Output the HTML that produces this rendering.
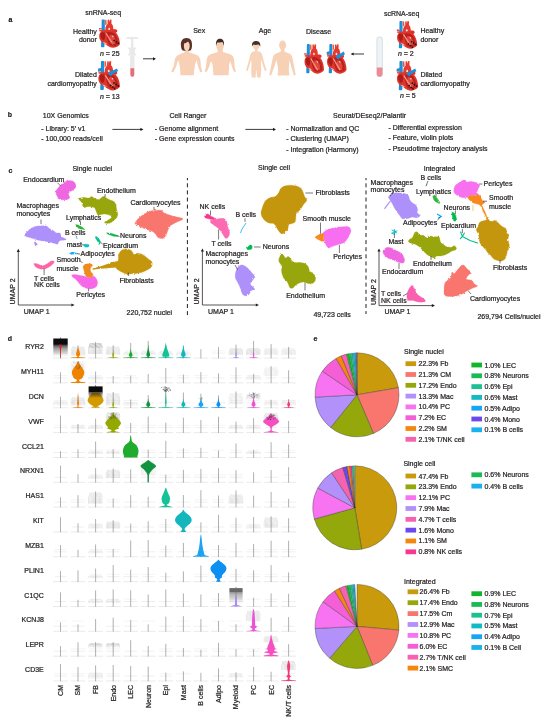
<!DOCTYPE html>
<html lang="en">
<head>
<meta charset="utf-8">
<title>Figure 1</title>
<style>
html,body{margin:0;padding:0;background:#fff;}
body{width:550px;height:722px;overflow:hidden;}
svg{display:block;}
svg text{font-family:"Liberation Sans", sans-serif;font-size:7px;fill:#231f20;stroke:#231f20;stroke-width:0.22px;}
</style>
</head>
<body>
<svg width="550" height="722" viewBox="0 0 550 722">
<rect width="550" height="722" fill="#ffffff"/>
<text x="8.5" y="22.2" font-size="8.5" font-weight="bold" fill="#000">a</text>
<text x="103.2" y="15.2" text-anchor="middle">snRNA-seq</text>
<text x="96.8" y="33.6" text-anchor="end">Healthy</text>
<text x="96.8" y="42.3" text-anchor="end">donor</text>
<text x="96.8" y="77.1" text-anchor="end">Dilated</text>
<text x="96.8" y="86" text-anchor="end">cardiomyopathy</text>
<text x="109.8" y="56.1" text-anchor="middle"><tspan font-style="italic">n</tspan> = 25</text>
<text x="109.8" y="99" text-anchor="middle"><tspan font-style="italic">n</tspan> = 13</text>
<g transform="translate(98,19.3) scale(1.0000,1.0000)">
<path d="M3.7 0.4 C4.6 0 5.9 0 6.8 0.4 L6.9 14 L6.4 27.4 C5.4 28.1 4 28.1 3 27.4 L3.5 14 Z" fill="#1c8fd8"/>
<path d="M7 0.6 L8.4 0.4 L8.8 5 L7.2 6 Z" fill="#ef5a3a"/>
<path d="M7.4 12 C7 8 8 5.6 9.6 4.6 L9.6 0.6 L11 0.3 L11.3 2.6 L12 0.2 L13.5 0.4 L13.4 4.2 C15 5.4 15.6 8 15.2 12 Z" fill="#e53a30"/>
<path d="M1 8.6 L4 9.2 L4 10 L1 10.2 Z M1.2 10.8 L4 10.6 L4 12 L1.6 12.3 Z" fill="#e53a30"/>
<path d="M14 10.4 C16 9.6 18.4 9.8 19.2 11 C19.6 12 19 13.2 17.4 13.4 L14 13 Z" fill="#d93028"/>
<path d="M5.2 10.8 C2.4 12 1 14.6 1.2 17.5 C1.4 20 2.4 21.6 4 22.6 L7 24.6 C10 27 13 28.6 15.6 28.4 C18.5 27.8 21 26.6 21.9 24.9 C21.9 21 20.8 17.5 19.3 15.1 C18 13 16 11.4 14 10.8 Z" fill="#e0352b"/>
<path d="M2.4 14.4 C3.6 12.6 6 12.4 7 14 C7.8 16.4 7.2 19.4 5.6 21.2 C3.4 20.2 2 17.4 2.4 14.4 Z" fill="#ab1d1b"/>
<path d="M8.6 13.2 C11 11.8 15 12.6 17.4 15.4 C19.4 18.4 20.4 22 20 24.6 C17.6 26.8 14 27.2 11.6 25.6 C9.4 22.4 8.2 17 8.6 13.2 Z" fill="#b8211e"/>
<path d="M11.8 15.6 C14 15 16 16.6 17 19 C17.8 21.2 17.8 23.2 17 24.8 C15 25.4 13 24.4 12.2 22.6 C11.4 20.2 11.2 17.6 11.8 15.6 Z" fill="#e2473c"/>
<path d="M7.4 14.2 L8.4 13.6 L15.6 24.6 L14.6 25.2 Z" fill="#f6a597"/>
<path d="M9.6 17.6 L10.4 17.2 L14 23.6 L13.2 24 Z" fill="#ee7d6e"/>
<ellipse cx="11.2" cy="9.6" rx="0.9" ry="1.2" fill="#fbe4dc"/>
<path d="M13.8 16.2 L15.6 16.6 L15 18.4 Z" fill="#fbd8cf"/>
<path d="M4.8 22.6 C6.4 22.6 8.4 23.8 9.4 25.2 L7 24.6 Z" fill="#f7c3b4"/>
<path d="M15.6 20.8 L21.8 25" stroke="#1a0d0d" stroke-width="1.5" stroke-dasharray="1.5 1" fill="none"/>
<path d="M13.8 23.4 L18.6 27.2" stroke="#5a1512" stroke-width="0.7" stroke-dasharray="1.2 1" fill="none"/>
</g>
<g transform="translate(97.1,60.9) scale(1.0417,1.0400)">
<path d="M3.7 0.4 C4.6 0 5.9 0 6.8 0.4 L6.9 14 L6.4 27.4 C5.4 28.1 4 28.1 3 27.4 L3.5 14 Z" fill="#1c8fd8"/>
<path d="M7 0.6 L8.4 0.4 L8.8 5 L7.2 6 Z" fill="#ef5a3a"/>
<path d="M7.4 12 C7 8 8 5.6 9.6 4.6 L9.6 0.6 L11 0.3 L11.3 2.6 L12 0.2 L13.5 0.4 L13.4 4.2 C15 5.4 15.6 8 15.2 12 Z" fill="#e53a30"/>
<path d="M1 8.6 L4 9.2 L4 10 L1 10.2 Z M1.2 10.8 L4 10.6 L4 12 L1.6 12.3 Z" fill="#e53a30"/>
<path d="M14 10.4 C16 9.6 18.4 9.8 19.2 11 C19.6 12 19 13.2 17.4 13.4 L14 13 Z" fill="#d93028"/>
<path d="M5.2 10.8 C2.4 12 1 14.6 1.2 17.5 C1.4 20 2.4 21.6 4 22.6 L7 24.6 C10 27 13 28.6 15.6 28.4 C18.5 27.8 21 26.6 21.9 24.9 C21.9 21 20.8 17.5 19.3 15.1 C18 13 16 11.4 14 10.8 Z" fill="#e0352b"/>
<path d="M2.4 14.4 C3.6 12.6 6 12.4 7 14 C7.8 16.4 7.2 19.4 5.6 21.2 C3.4 20.2 2 17.4 2.4 14.4 Z" fill="#ab1d1b"/>
<path d="M8.6 13.2 C11 11.8 15 12.6 17.4 15.4 C19.4 18.4 20.4 22 20 24.6 C17.6 26.8 14 27.2 11.6 25.6 C9.4 22.4 8.2 17 8.6 13.2 Z" fill="#b8211e"/>
<path d="M11.8 15.6 C14 15 16 16.6 17 19 C17.8 21.2 17.8 23.2 17 24.8 C15 25.4 13 24.4 12.2 22.6 C11.4 20.2 11.2 17.6 11.8 15.6 Z" fill="#e2473c"/>
<path d="M7.4 14.2 L8.4 13.6 L15.6 24.6 L14.6 25.2 Z" fill="#f6a597"/>
<path d="M9.6 17.6 L10.4 17.2 L14 23.6 L13.2 24 Z" fill="#ee7d6e"/>
<ellipse cx="11.2" cy="9.6" rx="0.9" ry="1.2" fill="#fbe4dc"/>
<path d="M13.8 16.2 L15.6 16.6 L15 18.4 Z" fill="#fbd8cf"/>
<path d="M4.8 22.6 C6.4 22.6 8.4 23.8 9.4 25.2 L7 24.6 Z" fill="#f7c3b4"/>
<path d="M0.8 7.6 L4 6.6 L4 9.6 L1.2 10.2 Z" fill="#1c8fd8"/>
<path d="M10.4 12.6 C11.4 10.4 13.8 9.9 15.6 9.1 L19 7.2 L20.2 9.8 L17.2 11.4 C15.6 12.2 14.2 13.2 13.4 14.8 Z" fill="#1c8fd8"/>
<path d="M15.6 20.8 L21.8 25" stroke="#1a0d0d" stroke-width="1.5" stroke-dasharray="1.5 1" fill="none"/>
<path d="M12.6 23 L17.8 27.6" stroke="#1a0d0d" stroke-width="1.4" stroke-dasharray="1.5 1" fill="none"/>
</g>
<g fill="#e9e9e9">
<rect x="126.5" y="37" width="11.5" height="2.1" rx="0.8"/>
<rect x="131" y="38" width="2.4" height="10"/>
<path d="M128.2 47.4 L136.2 47.4 L136.2 49 L135 49.6 L135 53.6 L136.2 54.2 L136.2 55.6 L128.2 55.6 L128.2 54.2 L129.4 53.6 L129.4 49.6 L128.2 49 Z"/>
<rect x="130.1" y="55" width="4.4" height="21.8" rx="2.1"/>
</g>
<path d="M130.4 68.2 L134.2 68.2 L134.2 74.8 A1.9 1.9 0 0 1 130.4 74.8 Z" fill="#e96d76"/>
<path d="M143 58.8 L153.60 58.8" stroke="#1a1a1a" stroke-width="0.85" fill="none"/>
<path d="M156 58.8 L153.00 57.199999999999996 L153.00 60.4 Z" fill="#1a1a1a"/>
<text x="199.2" y="33" text-anchor="middle">Sex</text>
<text x="265" y="33.2" text-anchor="middle">Age</text>
<text x="318.6" y="34.2" text-anchor="middle">Disease</text>
<g>
<path d="M184.6 49 L184.6 52.2 C182.4 53.2 179.4 54.2 177.4 55.6 C175.4 57 174.6 59.4 174.3 62.4 L173.6 66.5 L171.2 71.6 L173.2 72.4 L176 67 L178.2 60 L179.3 64 C179.8 67 180.2 69 180.2 70.4 L180.4 75.3 L193.8 75.3 L194.2 70.4 C194.4 69 194.8 67 195.2 64 L196.6 60 L198.2 67 L200.4 72.4 L202.4 71.6 L200.8 66.5 L200.6 62.4 C200.4 59.4 199.8 57 197.8 55.6 C195.8 54.2 191.2 53.2 189 52.2 L189 49 Z" fill="#f7d0b5"/>
<path d="M186.6 37.9 C182.6 37.8 180.6 41 180.9 45 C181 47.6 181.6 49.6 182.8 50.6 L185 50.8 L188.6 50.8 L190.6 50.6 C191.6 49.4 192 47.4 192 45 C192.2 41 190.6 38 186.6 37.9 Z" fill="#5b3128"/>
<path d="M184 43.6 C185.4 43.4 187 42.6 188 41.6 C189.2 42.8 189.8 44.6 189.7 46.6 C189.6 49 188.4 51 186.8 51.2 C185.2 51 184 49 183.9 46.6 Z" fill="#f7d6bf"/>
</g>
<path d="M217.7 49.6 L217.7 52 C214.6 53 211.2 53.8 209.2 55 C207.2 56.4 206.6 59 206.4 63 L205.8 67.5 L204.6 71.4 L206.6 72 L208.8 67.5 L211 61 L212.6 64.5 L213.4 75.3 L228.6 75.3 L229.2 64.5 L230.2 61 L232.2 67.5 L234 72 L236 71.4 L234.8 67.5 L234.4 63 C234.2 59 233.6 56.4 231.6 55 C229.6 53.8 226 53 222.9 52 L222.9 49.6 Z" fill="#f7d0b5"/>
<ellipse cx="220" cy="45.8" rx="3.7" ry="5.2" fill="#f5cfb4"/>
<path d="M216.1 46 C215.4 41.4 217 38.8 220 38.8 C223 38.8 224.6 41.4 223.9 46 C223.5 44.2 223 42.8 222.2 42 C220.8 42.6 218.6 42.6 217.6 42.2 C216.8 43 216.4 44.4 216.1 46 Z" fill="#3f2a25"/>
<path d="M246 70.6 C247.4 66 248.8 61 250 56 C250.4 53.4 251.6 52 253.4 51.6 L255 51.2 L255 48.6 L257.5 48.6 L257.5 51.2 L259.1 51.6 C260.9 52 262.1 53.4 262.5 56 C263.7 61 265.1 66 266.5 70.6 L265 71.2 C263.6 67.6 262.2 63 261.3 59.6 C261 63 261 66 261.2 68.6 C261.2 72 260.9 75 260.5 77.4 L257 77.4 L256.5 70.4 L256.1 70.4 L255.6 77.4 L251.8 77.4 C251.4 75 251.1 72 251.3 68.6 C251.5 66 251.5 63 251.2 59.6 C250.3 63 248.9 67.6 247.5 71.2 Z" fill="#f7d3ba"/>
<ellipse cx="256.2" cy="45.8" rx="3.2" ry="3.7" fill="#f7d3ba"/>
<path d="M252.1 46.4 C251.5 42.6 253.2 41 256.1 41 C259 41 260.8 42.6 260.2 46.4 C259.6 45.2 259 44.6 258.4 44.4 C256.8 45 254.6 45 253.6 44.6 C253 45 252.6 45.6 252.1 46.4 Z" fill="#4a2f2a"/>
<path d="M269.3 75 C270.8 68 272 61.4 273 57 C273.6 54.2 276 53.2 278.6 52.4 L280.8 51.6 L280.8 48.6 L284.4 48.6 L284.4 51.6 L286.6 52.4 C289.2 53.2 291.6 54.2 292.2 57 C293.2 61.4 294.4 68 295.7 75 L293.9 75.4 C292.2 70 290.6 64.6 289.6 60 C289 64 288.8 68 288.9 71 L289.5 75.5 L277.5 75.5 L278.1 71 C278.2 68 277.4 64 276.4 60 C275 64.6 273.2 70 271.1 75.4 Z" fill="#f6d1b6"/>
<ellipse cx="282.6" cy="45.2" rx="3.5" ry="4.7" fill="#f6d1b6"/>
<g transform="translate(303.4,44) scale(0.9417,1.0467)">
<path d="M3.7 0.4 C4.6 0 5.9 0 6.8 0.4 L6.9 14 L6.4 27.4 C5.4 28.1 4 28.1 3 27.4 L3.5 14 Z" fill="#1c8fd8"/>
<path d="M7 0.6 L8.4 0.4 L8.8 5 L7.2 6 Z" fill="#ef5a3a"/>
<path d="M7.4 12 C7 8 8 5.6 9.6 4.6 L9.6 0.6 L11 0.3 L11.3 2.6 L12 0.2 L13.5 0.4 L13.4 4.2 C15 5.4 15.6 8 15.2 12 Z" fill="#e53a30"/>
<path d="M1 8.6 L4 9.2 L4 10 L1 10.2 Z M1.2 10.8 L4 10.6 L4 12 L1.6 12.3 Z" fill="#e53a30"/>
<path d="M14 10.4 C16 9.6 18.4 9.8 19.2 11 C19.6 12 19 13.2 17.4 13.4 L14 13 Z" fill="#d93028"/>
<path d="M5.2 10.8 C2.4 12 1 14.6 1.2 17.5 C1.4 20 2.4 21.6 4 22.6 L7 24.6 C10 27 13 28.6 15.6 28.4 C18.5 27.8 21 26.6 21.9 24.9 C21.9 21 20.8 17.5 19.3 15.1 C18 13 16 11.4 14 10.8 Z" fill="#e0352b"/>
<path d="M2.4 14.4 C3.6 12.6 6 12.4 7 14 C7.8 16.4 7.2 19.4 5.6 21.2 C3.4 20.2 2 17.4 2.4 14.4 Z" fill="#ab1d1b"/>
<path d="M8.6 13.2 C11 11.8 15 12.6 17.4 15.4 C19.4 18.4 20.4 22 20 24.6 C17.6 26.8 14 27.2 11.6 25.6 C9.4 22.4 8.2 17 8.6 13.2 Z" fill="#b8211e"/>
<path d="M11.8 15.6 C14 15 16 16.6 17 19 C17.8 21.2 17.8 23.2 17 24.8 C15 25.4 13 24.4 12.2 22.6 C11.4 20.2 11.2 17.6 11.8 15.6 Z" fill="#e2473c"/>
<path d="M7.4 14.2 L8.4 13.6 L15.6 24.6 L14.6 25.2 Z" fill="#f6a597"/>
<path d="M9.6 17.6 L10.4 17.2 L14 23.6 L13.2 24 Z" fill="#ee7d6e"/>
<ellipse cx="11.2" cy="9.6" rx="0.9" ry="1.2" fill="#fbe4dc"/>
<path d="M13.8 16.2 L15.6 16.6 L15 18.4 Z" fill="#fbd8cf"/>
<path d="M4.8 22.6 C6.4 22.6 8.4 23.8 9.4 25.2 L7 24.6 Z" fill="#f7c3b4"/>
</g>
<g transform="translate(325.9,44) scale(0.9417,1.0467)">
<path d="M3.7 0.4 C4.6 0 5.9 0 6.8 0.4 L6.9 14 L6.4 27.4 C5.4 28.1 4 28.1 3 27.4 L3.5 14 Z" fill="#1c8fd8"/>
<path d="M7 0.6 L8.4 0.4 L8.8 5 L7.2 6 Z" fill="#ef5a3a"/>
<path d="M7.4 12 C7 8 8 5.6 9.6 4.6 L9.6 0.6 L11 0.3 L11.3 2.6 L12 0.2 L13.5 0.4 L13.4 4.2 C15 5.4 15.6 8 15.2 12 Z" fill="#e53a30"/>
<path d="M1 8.6 L4 9.2 L4 10 L1 10.2 Z M1.2 10.8 L4 10.6 L4 12 L1.6 12.3 Z" fill="#e53a30"/>
<path d="M14 10.4 C16 9.6 18.4 9.8 19.2 11 C19.6 12 19 13.2 17.4 13.4 L14 13 Z" fill="#d93028"/>
<path d="M5.2 10.8 C2.4 12 1 14.6 1.2 17.5 C1.4 20 2.4 21.6 4 22.6 L7 24.6 C10 27 13 28.6 15.6 28.4 C18.5 27.8 21 26.6 21.9 24.9 C21.9 21 20.8 17.5 19.3 15.1 C18 13 16 11.4 14 10.8 Z" fill="#e0352b"/>
<path d="M2.4 14.4 C3.6 12.6 6 12.4 7 14 C7.8 16.4 7.2 19.4 5.6 21.2 C3.4 20.2 2 17.4 2.4 14.4 Z" fill="#ab1d1b"/>
<path d="M8.6 13.2 C11 11.8 15 12.6 17.4 15.4 C19.4 18.4 20.4 22 20 24.6 C17.6 26.8 14 27.2 11.6 25.6 C9.4 22.4 8.2 17 8.6 13.2 Z" fill="#b8211e"/>
<path d="M11.8 15.6 C14 15 16 16.6 17 19 C17.8 21.2 17.8 23.2 17 24.8 C15 25.4 13 24.4 12.2 22.6 C11.4 20.2 11.2 17.6 11.8 15.6 Z" fill="#e2473c"/>
<path d="M7.4 14.2 L8.4 13.6 L15.6 24.6 L14.6 25.2 Z" fill="#f6a597"/>
<path d="M9.6 17.6 L10.4 17.2 L14 23.6 L13.2 24 Z" fill="#ee7d6e"/>
<ellipse cx="11.2" cy="9.6" rx="0.9" ry="1.2" fill="#fbe4dc"/>
<path d="M13.8 16.2 L15.6 16.6 L15 18.4 Z" fill="#fbd8cf"/>
<path d="M4.8 22.6 C6.4 22.6 8.4 23.8 9.4 25.2 L7 24.6 Z" fill="#f7c3b4"/>
<path d="M0.8 7.6 L4 6.6 L4 9.6 L1.2 10.2 Z" fill="#1c8fd8"/>
<path d="M10.4 12.6 C11.4 10.4 13.8 9.9 15.6 9.1 L19 7.2 L20.2 9.8 L17.2 11.4 C15.6 12.2 14.2 13.2 13.4 14.8 Z" fill="#1c8fd8"/>
</g>
<path d="M364 54 L353.00 54" stroke="#1a1a1a" stroke-width="0.85" fill="none"/>
<path d="M350.6 54 L353.60 52.4 L353.60 55.6 Z" fill="#1a1a1a"/>
<text x="401.6" y="16" text-anchor="middle">scRNA-seq</text>
<rect x="376.4" y="36.5" width="6.5" height="40.4" rx="3" fill="#d9e2e9"/>
<rect x="377.5" y="37.4" width="4.3" height="38.6" rx="2.1" fill="#eff3f6"/>
<path d="M376.8 67.6 L382.5 67.6 L382.5 73.8 A2.85 2.85 0 0 1 376.8 73.8 Z" fill="#ee8a92"/>
<g transform="translate(395.9,20.9) scale(0.9708,0.9800)">
<path d="M3.7 0.4 C4.6 0 5.9 0 6.8 0.4 L6.9 14 L6.4 27.4 C5.4 28.1 4 28.1 3 27.4 L3.5 14 Z" fill="#1c8fd8"/>
<path d="M7 0.6 L8.4 0.4 L8.8 5 L7.2 6 Z" fill="#ef5a3a"/>
<path d="M7.4 12 C7 8 8 5.6 9.6 4.6 L9.6 0.6 L11 0.3 L11.3 2.6 L12 0.2 L13.5 0.4 L13.4 4.2 C15 5.4 15.6 8 15.2 12 Z" fill="#e53a30"/>
<path d="M1 8.6 L4 9.2 L4 10 L1 10.2 Z M1.2 10.8 L4 10.6 L4 12 L1.6 12.3 Z" fill="#e53a30"/>
<path d="M14 10.4 C16 9.6 18.4 9.8 19.2 11 C19.6 12 19 13.2 17.4 13.4 L14 13 Z" fill="#d93028"/>
<path d="M5.2 10.8 C2.4 12 1 14.6 1.2 17.5 C1.4 20 2.4 21.6 4 22.6 L7 24.6 C10 27 13 28.6 15.6 28.4 C18.5 27.8 21 26.6 21.9 24.9 C21.9 21 20.8 17.5 19.3 15.1 C18 13 16 11.4 14 10.8 Z" fill="#e0352b"/>
<path d="M2.4 14.4 C3.6 12.6 6 12.4 7 14 C7.8 16.4 7.2 19.4 5.6 21.2 C3.4 20.2 2 17.4 2.4 14.4 Z" fill="#ab1d1b"/>
<path d="M8.6 13.2 C11 11.8 15 12.6 17.4 15.4 C19.4 18.4 20.4 22 20 24.6 C17.6 26.8 14 27.2 11.6 25.6 C9.4 22.4 8.2 17 8.6 13.2 Z" fill="#b8211e"/>
<path d="M11.8 15.6 C14 15 16 16.6 17 19 C17.8 21.2 17.8 23.2 17 24.8 C15 25.4 13 24.4 12.2 22.6 C11.4 20.2 11.2 17.6 11.8 15.6 Z" fill="#e2473c"/>
<path d="M7.4 14.2 L8.4 13.6 L15.6 24.6 L14.6 25.2 Z" fill="#f6a597"/>
<path d="M9.6 17.6 L10.4 17.2 L14 23.6 L13.2 24 Z" fill="#ee7d6e"/>
<ellipse cx="11.2" cy="9.6" rx="0.9" ry="1.2" fill="#fbe4dc"/>
<path d="M13.8 16.2 L15.6 16.6 L15 18.4 Z" fill="#fbd8cf"/>
<path d="M4.8 22.6 C6.4 22.6 8.4 23.8 9.4 25.2 L7 24.6 Z" fill="#f7c3b4"/>
<path d="M15.6 20.8 L21.8 25" stroke="#1a0d0d" stroke-width="1.5" stroke-dasharray="1.5 1" fill="none"/>
<path d="M12.6 23 L17.8 27.6" stroke="#1a0d0d" stroke-width="1.4" stroke-dasharray="1.5 1" fill="none"/>
</g>
<g transform="translate(395.7,60.9) scale(1.0250,1.0500)">
<path d="M3.7 0.4 C4.6 0 5.9 0 6.8 0.4 L6.9 14 L6.4 27.4 C5.4 28.1 4 28.1 3 27.4 L3.5 14 Z" fill="#1c8fd8"/>
<path d="M7 0.6 L8.4 0.4 L8.8 5 L7.2 6 Z" fill="#ef5a3a"/>
<path d="M7.4 12 C7 8 8 5.6 9.6 4.6 L9.6 0.6 L11 0.3 L11.3 2.6 L12 0.2 L13.5 0.4 L13.4 4.2 C15 5.4 15.6 8 15.2 12 Z" fill="#e53a30"/>
<path d="M1 8.6 L4 9.2 L4 10 L1 10.2 Z M1.2 10.8 L4 10.6 L4 12 L1.6 12.3 Z" fill="#e53a30"/>
<path d="M14 10.4 C16 9.6 18.4 9.8 19.2 11 C19.6 12 19 13.2 17.4 13.4 L14 13 Z" fill="#d93028"/>
<path d="M5.2 10.8 C2.4 12 1 14.6 1.2 17.5 C1.4 20 2.4 21.6 4 22.6 L7 24.6 C10 27 13 28.6 15.6 28.4 C18.5 27.8 21 26.6 21.9 24.9 C21.9 21 20.8 17.5 19.3 15.1 C18 13 16 11.4 14 10.8 Z" fill="#e0352b"/>
<path d="M2.4 14.4 C3.6 12.6 6 12.4 7 14 C7.8 16.4 7.2 19.4 5.6 21.2 C3.4 20.2 2 17.4 2.4 14.4 Z" fill="#ab1d1b"/>
<path d="M8.6 13.2 C11 11.8 15 12.6 17.4 15.4 C19.4 18.4 20.4 22 20 24.6 C17.6 26.8 14 27.2 11.6 25.6 C9.4 22.4 8.2 17 8.6 13.2 Z" fill="#b8211e"/>
<path d="M11.8 15.6 C14 15 16 16.6 17 19 C17.8 21.2 17.8 23.2 17 24.8 C15 25.4 13 24.4 12.2 22.6 C11.4 20.2 11.2 17.6 11.8 15.6 Z" fill="#e2473c"/>
<path d="M7.4 14.2 L8.4 13.6 L15.6 24.6 L14.6 25.2 Z" fill="#f6a597"/>
<path d="M9.6 17.6 L10.4 17.2 L14 23.6 L13.2 24 Z" fill="#ee7d6e"/>
<ellipse cx="11.2" cy="9.6" rx="0.9" ry="1.2" fill="#fbe4dc"/>
<path d="M13.8 16.2 L15.6 16.6 L15 18.4 Z" fill="#fbd8cf"/>
<path d="M4.8 22.6 C6.4 22.6 8.4 23.8 9.4 25.2 L7 24.6 Z" fill="#f7c3b4"/>
<path d="M0.8 7.6 L4 6.6 L4 9.6 L1.2 10.2 Z" fill="#1c8fd8"/>
<path d="M10.4 12.6 C11.4 10.4 13.8 9.9 15.6 9.1 L19 7.2 L20.2 9.8 L17.2 11.4 C15.6 12.2 14.2 13.2 13.4 14.8 Z" fill="#1c8fd8"/>
<path d="M15.6 20.8 L21.8 25" stroke="#1a0d0d" stroke-width="1.5" stroke-dasharray="1.5 1" fill="none"/>
<path d="M12.6 23 L17.8 27.6" stroke="#1a0d0d" stroke-width="1.4" stroke-dasharray="1.5 1" fill="none"/>
</g>
<text x="420.4" y="33.3">Healthy</text>
<text x="420.4" y="42">donor</text>
<text x="420.4" y="77.3">Dilated</text>
<text x="420.4" y="86">cardiomyopathy</text>
<text x="405.8" y="55.8" text-anchor="middle"><tspan font-style="italic">n</tspan> = 2</text>
<text x="407.8" y="98.4" text-anchor="middle"><tspan font-style="italic">n</tspan> = 5</text>
<text x="7.8" y="116.6" font-size="8.5" font-weight="bold" fill="#000">b</text>
<text x="42.8" y="118.4">10X Genomics</text>
<text x="41.3" y="131.4">- Library: 5′ v1</text>
<text x="41.3" y="141.4">- 100,000 reads/cell</text>
<path d="M112.4 129.4 L141.00 129.4" stroke="#1a1a1a" stroke-width="0.85" fill="none"/>
<path d="M143.4 129.4 L140.40 127.80000000000001 L140.40 131.0 Z" fill="#1a1a1a"/>
<text x="169.4" y="118.4">Cell Ranger</text>
<text x="154.8" y="131.2">- Genome alignment</text>
<text x="154.8" y="141.3">- Gene expression counts</text>
<path d="M245.4 129.4 L273.60 129.4" stroke="#1a1a1a" stroke-width="0.85" fill="none"/>
<path d="M276 129.4 L273.00 127.80000000000001 L273.00 131.0 Z" fill="#1a1a1a"/>
<text x="333" y="118.2">Seurat/DEseq2/Palantir</text>
<text x="286.2" y="131.2">- Normalization and QC</text>
<text x="286.2" y="141.3">- Clustering (UMAP)</text>
<text x="286.2" y="152.4">- Integration (Harmony)</text>
<text x="388.4" y="129.6">- Differential expression</text>
<text x="388.4" y="140.3">- Feature, violin plots</text>
<text x="388.4" y="151.3">- Pseudotime trajectory analysis</text>
<defs><filter id="rough" x="-5%" y="-5%" width="110%" height="110%"><feTurbulence type="fractalNoise" baseFrequency="0.55" numOctaves="2" seed="3" result="n"/><feDisplacementMap in="SourceGraphic" in2="n" scale="2.2" xChannelSelector="R" yChannelSelector="G"/></filter></defs>
<text x="8.5" y="172.9" font-size="8.5" font-weight="bold" fill="#000">c</text>
<text x="92.3" y="170.8" text-anchor="middle">Single nuclei</text>
<text x="274" y="170.2" text-anchor="middle">Single cell</text>
<text x="439.5" y="171" text-anchor="middle">Integrated</text>
<path d="M187.4 178V316" stroke="#231f20" stroke-width="1" stroke-dasharray="4 3.1" stroke-dashoffset="1.8" fill="none"/>
<path d="M366 178V314" stroke="#231f20" stroke-width="1" stroke-dasharray="4 3.1" stroke-dashoffset="1.8" fill="none"/>
<path d="M18.3 250.8V305H72.6" stroke="#3a3637" stroke-width="0.85" fill="none"/>
<path d="M18.3 248.8l-1.6 3.2h3.2z" fill="#231f20"/>
<path d="M74.6 305l-3.2 -1.6v3.2z" fill="#231f20"/>
<text x="15.2" y="304.4" transform="rotate(-90 15.2 304.4)">UMAP 2</text>
<text x="23.7" y="314.4">UMAP 1</text>
<text x="126.6" y="315.2">220,752 nuclei</text>
<path d="M56.0 191.1C56.3 190.2 57.1 189.1 58.2 187.9C59.3 186.7 61.8 183.9 63.3 182.8C64.8 181.7 66.9 180.9 68.4 180.7C69.9 180.5 72.4 180.7 73.5 181.5C74.6 182.3 75.9 184.8 76.0 186.0C76.1 187.2 74.9 188.4 74.1 189.2C73.3 190.0 71.8 190.4 70.9 191.1C70.0 191.8 68.6 192.6 68.4 193.6C68.2 194.6 69.8 196.6 69.6 197.5C69.4 198.4 68.4 199.1 67.1 199.4C65.8 199.7 62.1 200.1 60.7 199.7C59.3 199.3 58.2 197.7 57.5 196.8C56.8 195.9 56.5 194.5 56.3 193.6C56.1 192.7 55.7 192.0 56.0 191.1Z" fill="#f066e0" stroke="#f066e0" stroke-width="0.5" stroke-linejoin="round" filter="url(#rough)"/>
<path d="M78.0 198.5C78.4 198.1 81.5 197.6 83.0 197.5C84.5 197.4 87.9 198.1 89.0 198.0C90.1 197.9 90.7 196.4 91.5 196.5C92.3 196.6 94.0 198.1 95.0 198.5C96.0 198.9 97.9 199.8 99.0 199.5C100.1 199.2 102.2 196.8 103.0 196.5C103.8 196.2 104.2 196.6 105.0 197.0C105.8 197.4 107.8 198.9 109.0 199.5C110.2 200.1 113.1 200.8 114.0 201.5C114.9 202.2 115.7 204.0 116.0 205.0C116.3 206.0 116.3 207.8 116.5 209.0C116.7 210.2 117.8 212.8 117.8 214.0C117.8 215.2 117.1 217.1 116.5 218.0C115.9 218.9 113.9 220.3 113.0 221.0C112.1 221.7 110.9 222.7 110.0 223.0C109.1 223.3 106.7 223.6 106.0 223.5C105.3 223.4 104.3 222.4 104.5 222.0C104.7 221.6 106.7 221.0 107.5 220.5C108.3 220.0 109.9 219.0 110.5 218.5C111.1 218.0 112.1 217.0 112.0 216.5C111.9 216.0 110.4 215.3 109.5 215.0C108.6 214.7 106.1 214.1 105.0 214.0C103.9 213.9 101.9 214.4 101.0 214.5C100.1 214.6 98.6 215.4 98.0 215.0C97.4 214.6 96.6 212.4 96.2 211.5C95.8 210.6 95.4 208.6 94.8 208.0C94.2 207.4 92.4 207.2 91.5 207.0C90.6 206.8 88.9 206.4 88.0 206.5C87.1 206.6 85.7 207.5 85.0 207.5C84.3 207.5 83.4 207.1 83.0 206.5C82.6 205.9 82.4 203.8 82.0 203.0C81.6 202.2 80.5 201.1 80.0 200.5C79.5 199.9 77.6 198.9 78.0 198.5Z" fill="#98a60a" stroke="#98a60a" stroke-width="0.3" stroke-linejoin="round" filter="url(#rough)"/>
<path d="M24.3 235.1C24.4 234.4 26.1 232.8 27.1 231.8C28.1 230.8 29.7 229.3 30.9 228.5C32.1 227.7 33.6 226.8 35.1 226.4C36.6 226.0 39.1 225.9 40.8 225.9C42.5 225.9 45.2 225.7 46.5 226.1C47.8 226.5 48.3 227.9 49.3 228.5C50.3 229.1 52.0 229.8 53.1 230.4C54.2 231.0 55.3 232.4 56.4 232.8C57.5 233.2 59.5 232.6 60.2 233.2C60.9 233.8 60.2 235.6 61.1 236.5C62.0 237.4 66.2 238.8 66.3 239.4C66.4 240.0 62.7 240.0 61.6 240.3C60.5 240.6 59.4 240.7 58.8 241.3C58.2 241.9 58.4 243.8 57.8 244.1C57.2 244.4 56.1 243.9 55.0 243.6C53.9 243.3 51.8 242.5 50.2 242.2C48.6 241.9 46.3 241.6 44.6 241.3C42.9 241.0 40.5 240.7 38.9 240.3C37.3 239.9 35.6 239.3 34.2 238.9C32.8 238.5 30.7 237.9 29.5 237.5C28.3 237.1 26.9 236.9 26.1 236.5C25.3 236.1 24.2 235.8 24.3 235.1Z" fill="#ae90fb" stroke="#ae90fb" stroke-width="0.3" stroke-linejoin="round" filter="url(#rough)"/>
<path d="M34.2 241.9C34.3 241.5 35.6 242.3 36.0 242.6C36.4 242.9 37.2 243.9 37.3 244.4C37.4 244.9 36.7 246.2 36.4 246.3C36.1 246.4 35.5 246.0 35.2 245.4C34.9 244.8 34.1 242.3 34.2 241.9Z" fill="#ae90fb" stroke="#ae90fb" stroke-width="0.2" stroke-linejoin="round" filter="url(#rough)"/>
<path d="M135.0 223.6C135.0 222.7 136.8 220.2 138.0 218.9C139.2 217.6 142.3 215.2 143.9 214.2C145.5 213.2 148.2 211.7 149.8 211.2C151.4 210.7 154.1 210.5 155.7 210.4C157.3 210.3 160.5 210.1 161.6 210.4C162.7 210.7 162.6 212.3 164.0 213.0C165.4 213.7 169.8 215.2 172.3 216.0C174.8 216.8 182.3 217.9 182.9 218.7C183.5 219.5 178.7 221.0 177.0 221.9C175.3 222.8 171.7 224.4 170.5 225.4C169.3 226.4 168.7 228.3 168.1 229.6C167.5 230.9 166.5 234.3 165.8 235.5C165.1 236.7 163.8 238.1 162.8 238.4C161.8 238.7 159.0 238.1 158.1 237.6C157.2 237.1 156.9 235.7 156.3 234.9C155.7 234.1 154.4 232.5 153.4 231.9C152.4 231.3 150.0 230.6 148.6 230.1C147.2 229.6 144.1 228.4 142.7 227.8C141.3 227.2 139.0 226.0 138.0 225.4C137.0 224.8 135.0 224.5 135.0 223.6Z" fill="#f8766d" stroke="#f8766d" stroke-width="0.5" stroke-linejoin="round" filter="url(#rough)"/>
<path d="M114 261.4 C109 263.6 103 265.6 97 267.2 L92.4 268.4 L92.8 269.8 L98 269 C104 268.4 110 267.8 116 267.4 Z" fill="#c4960c" filter="url(#rough)"/>
<path d="M111.5 263.6C112.0 262.8 117.0 261.7 118.1 260.4C119.2 259.1 118.1 256.4 118.6 254.9C119.1 253.4 120.3 251.4 121.4 250.5C122.5 249.6 124.2 248.9 125.7 248.9C127.2 248.9 130.0 249.7 131.2 250.5C132.4 251.3 132.9 254.0 133.9 254.4C134.9 254.8 136.3 253.2 137.7 253.3C139.1 253.4 141.6 254.0 143.2 254.9C144.8 255.8 147.3 258.2 148.6 259.3C149.9 260.4 151.5 260.9 151.9 262.0C152.3 263.1 152.2 265.7 151.4 266.9C150.6 268.1 148.1 269.4 146.5 270.2C144.9 271.0 143.0 271.9 141.0 272.4C139.0 272.9 135.5 273.3 133.4 273.5C131.3 273.7 128.6 274.3 126.8 274.0C125.0 273.7 122.9 272.5 121.4 271.8C119.9 271.1 118.0 270.0 117.0 269.1C116.0 268.2 115.6 266.6 114.8 265.8C114.0 265.0 111.0 264.4 111.5 263.6Z" fill="#c4960c" stroke="#c4960c" stroke-width="0.5" stroke-linejoin="round" filter="url(#rough)"/>
<path d="M71.8 275.1C72.2 274.7 74.2 274.3 75.5 274.4C76.8 274.5 79.2 275.2 80.5 275.5C81.8 275.8 83.4 275.9 84.5 276.2C85.6 276.5 86.9 277.2 87.8 277.3C88.7 277.4 89.8 277.1 90.7 276.9C91.6 276.7 93.1 275.9 94.0 276.2C94.9 276.5 96.0 278.1 96.5 279.1C97.0 280.1 97.6 281.6 97.6 282.7C97.6 283.8 97.1 285.6 96.5 286.4C95.9 287.2 94.6 287.8 93.6 288.2C92.6 288.6 91.1 288.9 90.0 288.9C88.9 288.9 87.5 288.5 86.4 288.2C85.3 287.9 83.7 287.3 82.7 286.7C81.7 286.1 80.6 285.0 79.8 284.2C79.0 283.4 78.4 282.2 77.6 281.3C76.8 280.4 75.5 279.1 74.7 278.4C73.9 277.7 72.9 277.4 72.5 276.9C72.1 276.4 71.3 275.5 71.8 275.1Z" fill="#f768e6" stroke="#f768e6" stroke-width="0.3" stroke-linejoin="round" filter="url(#rough)"/>
<path d="M83.1 266.7C83.3 265.9 84.1 264.9 84.9 264.5C85.7 264.1 87.5 263.8 88.5 263.8C89.5 263.8 91.2 263.9 91.8 264.2C92.4 264.5 92.7 265.1 92.5 265.6C92.3 266.1 91.0 267.1 90.7 267.8C90.4 268.5 90.3 269.7 90.4 270.4C90.5 271.1 91.1 271.8 91.5 272.5C91.9 273.2 93.4 274.4 93.3 275.1C93.2 275.8 91.5 276.6 90.7 276.9C89.9 277.2 88.6 277.5 87.8 277.3C87.0 277.1 86.1 276.2 85.6 275.5C85.1 274.8 84.8 273.4 84.5 272.5C84.2 271.6 84.0 270.5 83.8 269.6C83.6 268.7 82.9 267.5 83.1 266.7Z" fill="#ef8a1e" stroke="#ef8a1e" stroke-width="0.3" stroke-linejoin="round" filter="url(#rough)"/>
<path d="M34.1 263.7C34.5 263.4 36.5 263.8 37.7 264.1C38.9 264.4 40.9 265.9 42.3 265.9C43.7 265.9 45.6 264.8 46.8 264.1C48.0 263.4 49.4 261.8 50.5 261.4C51.6 261.0 53.8 260.9 54.1 261.4C54.4 261.9 53.3 263.6 52.3 264.5C51.3 265.4 49.2 267.0 47.7 267.7C46.2 268.4 43.8 269.1 42.3 269.2C40.8 269.3 38.8 268.6 37.7 268.1C36.6 267.6 35.5 266.6 35.0 265.9C34.5 265.2 33.7 264.0 34.1 263.7Z" fill="#fc66a8" stroke="#fc66a8" stroke-width="0.5" stroke-linejoin="round" filter="url(#rough)"/>
<path d="M75.5 224.6C75.6 224.2 77.1 224.5 78.2 224.9C79.3 225.3 80.9 226.3 82.0 227.1C83.1 227.9 84.8 229.2 84.7 229.6C84.6 230.0 82.7 229.7 81.5 229.3C80.3 228.9 78.6 228.2 77.6 227.4C76.6 226.6 75.4 225.0 75.5 224.6Z" fill="#22b830" stroke="#22b830" stroke-width="0.2" stroke-linejoin="round" filter="url(#rough)"/>
<path d="M106.5 232.9C106.7 232.6 109.4 233.0 110.9 233.3C112.5 233.6 114.5 234.2 115.8 234.7C117.1 235.2 118.8 236.1 118.5 236.4C118.2 236.7 115.7 236.6 114.2 236.4C112.8 236.2 111.1 235.7 109.8 235.1C108.5 234.5 106.3 233.2 106.5 232.9Z" fill="#14b855" stroke="#14b855" stroke-width="0.2" stroke-linejoin="round" filter="url(#rough)"/>
<path d="M95.1 236.9C95.2 236.4 96.5 236.4 97.3 236.9C98.1 237.4 99.5 239.3 100.0 240.2C100.5 241.1 100.6 241.7 100.5 242.4C100.4 243.1 99.8 244.5 99.5 244.5C99.2 244.5 98.9 243.1 98.4 242.4C97.9 241.7 97.2 241.1 96.7 240.2C96.2 239.3 95.0 237.4 95.1 236.9Z" fill="#10c090" stroke="#10c090" stroke-width="0.2" stroke-linejoin="round" filter="url(#rough)"/>
<path d="M83.1 244.5C83.5 244.1 85.4 243.9 86.4 244.0C87.4 244.1 88.8 244.5 89.1 244.9C89.4 245.3 89.0 246.3 88.5 246.7C88.0 247.1 86.5 247.4 85.8 247.3C85.1 247.2 84.7 246.7 84.2 246.2C83.8 245.7 82.7 244.9 83.1 244.5Z" fill="#10c0c8" stroke="#10c0c8" stroke-width="0.2" stroke-linejoin="round" filter="url(#rough)"/>
<path d="M69.5 253.8C69.5 253.4 70.8 252.4 71.6 252.2C72.4 252.0 73.3 252.2 74.4 252.5C75.5 252.8 78.1 253.6 78.2 253.8C78.3 254.1 76.0 253.9 74.9 254.0C73.8 254.1 72.5 254.4 71.6 254.4C70.7 254.4 69.5 254.2 69.5 253.8Z" fill="#18a8f8" stroke="#18a8f8" stroke-width="0.2" stroke-linejoin="round" filter="url(#rough)"/>
<path d="M76.2 238L77.2 238.2" stroke="#1fb8ee" stroke-width="0.9" stroke-linecap="round" stroke-linejoin="round" fill="none"/>
<text x="23.2" y="182.2">Endocardium</text>
<path d="M57.5 182.8L60.7 186" stroke="#231f20" stroke-width="0.6" fill="none"/>
<text x="96.9" y="193.2">Endothelium</text>
<path d="M105.1 194L105.1 197" stroke="#231f20" stroke-width="0.6" fill="none"/>
<text x="16.5" y="208.3">Macrophages</text>
<text x="16.5" y="215.9">monocytes</text>
<path d="M41 219.5L41 224.1" stroke="#231f20" stroke-width="0.6" fill="none"/>
<text x="66" y="219.7">Lymphatics</text>
<path d="M80.5 221.6L80.5 225" stroke="#231f20" stroke-width="0.6" fill="none"/>
<text x="64.9" y="235.4">B cells</text>
<path d="M75.6 235.8L77 237.2" stroke="#231f20" stroke-width="0.6" fill="none"/>
<text x="66.7" y="246.5">mast</text>
<path d="M81.4 244.8L83.2 244.8" stroke="#231f20" stroke-width="0.6" fill="none"/>
<text x="80.5" y="255.9">Adipocytes</text>
<path d="M77.4 253.8L80 254" stroke="#231f20" stroke-width="0.6" fill="none"/>
<text x="56.5" y="262.3">Smooth</text>
<text x="56.5" y="270.5">muscle</text>
<path d="M80.5 261.4L82.6 262.6" stroke="#231f20" stroke-width="0.6" fill="none"/>
<text x="120" y="238.3">Neurons</text>
<path d="M116.5 235.4L119.5 236.6" stroke="#231f20" stroke-width="0.6" fill="none"/>
<text x="103.1" y="247.7">Epicardium</text>
<path d="M100.5 242.3L102.7 244.1" stroke="#231f20" stroke-width="0.6" fill="none"/>
<text x="130.4" y="204.5">Cardiomyocytes</text>
<path d="M154 206.8L154 209.9" stroke="#231f20" stroke-width="0.6" fill="none"/>
<text x="119.4" y="283.4">Fibroblasts</text>
<path d="M128.4 272.6L128.4 276" stroke="#231f20" stroke-width="0.6" fill="none"/>
<text x="34.1" y="280.5">T cells</text>
<text x="34.1" y="286.8">NK cells</text>
<path d="M44.1 268.6L44.1 275" stroke="#231f20" stroke-width="0.6" fill="none"/>
<text x="76.3" y="297.4">Pericytes</text>
<path d="M88.6 288.6L88.6 291.4" stroke="#231f20" stroke-width="0.6" fill="none"/>
<path d="M202.4 250.4V305H257" stroke="#3a3637" stroke-width="0.85" fill="none"/>
<path d="M202.4 248.4l-1.6 3.2h3.2z" fill="#231f20"/>
<path d="M259 305l-3.2 -1.6v3.2z" fill="#231f20"/>
<text x="199.4" y="304.4" transform="rotate(-90 199.4 304.4)">UMAP 2</text>
<text x="208" y="314.4">UMAP 1</text>
<text x="313.4" y="316.8">49,723 cells</text>
<path d="M261.0 212.7C261.0 211.2 261.5 210.2 262.1 208.4C262.7 206.6 263.6 203.5 264.8 201.8C266.0 200.1 267.5 198.9 269.2 198.0C270.9 197.1 273.6 197.2 275.2 196.4C276.8 195.6 277.6 194.4 278.5 193.1C279.4 191.8 279.6 189.9 280.6 188.7C281.6 187.5 282.9 186.6 284.5 186.0C286.1 185.4 287.9 185.2 289.9 185.2C291.9 185.2 294.7 185.5 296.5 186.0C298.3 186.5 299.7 187.2 300.8 188.2C301.9 189.2 302.4 190.6 303.0 192.0C303.6 193.4 304.0 195.0 304.6 196.4C305.2 197.8 307.0 198.8 306.8 200.2C306.6 201.5 304.5 203.1 303.5 204.5C302.5 205.9 301.9 207.5 300.8 208.9C299.7 210.3 297.8 211.5 297.0 212.7C296.2 213.9 296.2 214.5 295.9 216.0C295.6 217.5 296.0 220.2 295.4 221.5C294.8 222.8 293.2 223.1 292.1 223.6C291.0 224.1 289.5 223.8 288.8 224.7C288.1 225.6 288.4 227.7 287.7 229.1C287.0 230.5 285.6 232.2 284.5 232.9C283.4 233.6 282.2 233.9 281.2 233.5C280.2 233.1 279.3 231.8 278.5 230.7C277.7 229.6 277.1 228.1 276.3 226.9C275.5 225.7 274.7 224.2 273.5 223.6C272.3 223.0 270.6 223.6 269.2 223.1C267.8 222.6 266.0 221.4 264.8 220.4C263.6 219.4 262.7 218.4 262.1 217.1C261.5 215.8 261.0 214.1 261.0 212.7Z" fill="#c4960c" stroke="#c4960c" stroke-width="0.3" stroke-linejoin="round" filter="url(#rough)"/>
<path d="M210.5 221.4C211.0 220.8 213.1 220.0 215.0 219.5C216.9 219.0 221.5 218.0 223.2 218.3C224.9 218.6 225.8 220.1 226.5 221.4C227.2 222.7 227.2 225.0 227.7 226.8C228.1 228.6 229.5 231.6 229.5 233.2C229.5 234.8 228.4 237.0 227.7 237.7C227.0 238.4 225.8 238.4 225.0 237.7C224.2 237.0 223.3 234.6 222.3 233.2C221.3 231.8 219.8 229.8 218.6 228.6C217.4 227.4 215.2 225.8 214.1 225.0C213.0 224.2 211.9 223.7 211.4 223.2C210.9 222.7 210.0 222.0 210.5 221.4Z" fill="#fc6ab2" stroke="#fc6ab2" stroke-width="0.5" stroke-linejoin="round" filter="url(#rough)"/>
<path d="M204.6 215.9C204.9 215.4 206.8 214.1 207.7 214.1C208.6 214.1 209.5 215.4 210.5 215.9C211.5 216.4 213.3 217.2 214.1 217.7C214.9 218.2 216.2 218.7 215.9 219.0C215.6 219.3 213.5 219.6 212.3 219.5C211.1 219.4 208.7 218.9 207.7 218.6C206.7 218.3 205.9 218.1 205.4 217.7C204.9 217.3 204.3 216.4 204.6 215.9Z" fill="#f9358f" stroke="#f9358f" stroke-width="0.5" stroke-linejoin="round" filter="url(#rough)"/>
<path d="M322.5 233.3C323.0 232.4 324.4 231.2 325.9 230.4C327.4 229.6 329.5 228.9 331.7 228.3C333.9 227.7 336.8 227.3 339.3 227.0C341.8 226.7 345.0 226.4 346.8 226.6C348.6 226.8 349.4 227.2 350.1 227.9C350.8 228.6 351.1 229.6 351.0 230.8C350.9 232.1 350.0 233.9 349.3 235.4C348.6 236.9 347.6 238.4 346.8 239.6C346.0 240.8 345.6 241.7 344.3 242.5C343.1 243.3 341.0 243.6 339.3 244.2C337.6 244.8 335.8 245.2 334.2 245.8C332.6 246.4 330.8 247.8 329.6 247.9C328.4 248.1 327.9 247.5 327.1 246.7C326.4 245.9 325.7 244.2 325.1 242.9C324.6 241.6 324.2 239.9 323.8 238.7C323.4 237.5 323.2 236.7 323.0 235.8C322.8 234.9 322.0 234.2 322.5 233.3Z" fill="#f76ef0" stroke="#f76ef0" stroke-width="0.3" stroke-linejoin="round" filter="url(#rough)"/>
<path d="M315.0 237.1C315.1 236.6 316.5 236.0 317.5 235.4C318.5 234.8 319.8 233.8 320.9 233.7C321.9 233.5 323.4 233.8 323.8 234.5C324.2 235.2 323.3 236.8 323.4 237.9C323.5 239.0 324.5 240.2 324.2 240.8C323.9 241.4 322.5 241.3 321.7 241.2C320.9 241.1 320.0 240.4 319.2 240.0C318.4 239.6 317.4 239.2 316.7 238.7C316.0 238.2 314.9 237.6 315.0 237.1Z" fill="#f8891a" stroke="#f8891a" stroke-width="0.3" stroke-linejoin="round" filter="url(#rough)"/>
<path d="M235.2 275.0C235.3 273.7 235.6 271.9 236.2 270.4C236.8 268.9 237.8 267.1 238.8 266.2C239.8 265.3 241.0 264.9 242.1 264.9C243.2 264.9 244.2 265.5 245.3 266.2C246.4 266.9 247.6 268.1 248.6 269.1C249.6 270.1 250.6 271.2 251.6 272.4C252.6 273.6 254.5 275.1 254.8 276.3C255.1 277.5 253.8 278.6 253.2 279.6C252.6 280.6 251.7 281.4 251.2 282.2C250.7 283.0 250.0 283.4 250.3 284.2C250.6 285.0 252.2 285.9 252.9 286.8C253.7 287.7 254.9 288.8 254.8 289.4C254.7 289.9 252.9 289.7 252.2 290.1C251.4 290.5 250.9 291.2 250.3 292.0C249.8 292.8 249.7 293.9 248.9 294.6C248.1 295.3 246.7 296.1 245.7 296.0C244.7 295.9 243.5 295.2 242.7 294.3C241.9 293.4 241.6 292.1 241.1 290.7C240.6 289.3 240.2 287.6 239.5 286.1C238.8 284.6 237.9 282.9 237.2 281.6C236.5 280.3 235.8 279.4 235.5 278.3C235.2 277.2 235.1 276.3 235.2 275.0Z" fill="#ae90fb" stroke="#ae90fb" stroke-width="0.3" stroke-linejoin="round" filter="url(#rough)"/>
<path d="M278.8 260.7C278.7 259.6 279.3 258.2 279.7 257.1C280.1 256.0 280.5 254.2 281.1 253.9C281.7 253.6 282.6 254.6 283.4 255.3C284.1 256.0 284.9 257.8 285.6 258.0C286.4 258.2 287.2 256.7 287.9 256.6C288.6 256.5 289.1 256.9 289.7 257.5C290.3 258.1 290.7 259.5 291.5 260.3C292.3 261.1 293.2 262.1 294.7 262.5C296.1 262.9 298.4 262.3 300.2 262.5C302.0 262.7 304.2 263.1 305.6 263.9C307.0 264.7 307.7 265.9 308.4 267.1C309.1 268.3 308.9 270.2 309.7 271.2C310.4 272.2 311.9 272.0 312.9 273.0C313.9 274.0 315.2 275.7 315.5 277.1C315.8 278.5 315.4 280.5 314.7 281.6C314.0 282.7 312.5 283.7 311.1 283.9C309.7 284.1 307.7 283.3 306.5 283.0C305.3 282.7 305.0 282.1 303.8 282.1C302.6 282.1 300.7 282.5 299.3 283.0C297.9 283.5 296.7 284.5 295.6 285.3C294.5 286.1 293.8 287.6 292.9 288.0C292.0 288.4 290.9 288.4 290.2 288.0C289.5 287.6 289.3 286.4 288.8 285.3C288.3 284.2 287.8 282.7 287.0 281.6C286.2 280.5 285.1 279.9 284.3 278.9C283.6 277.8 283.0 276.7 282.5 275.3C282.0 273.9 281.6 272.2 281.5 270.7C281.4 269.2 282.2 267.4 282.0 266.2C281.8 265.0 280.7 264.4 280.2 263.5C279.7 262.6 278.9 261.8 278.8 260.7Z" fill="#98a60a" stroke="#98a60a" stroke-width="0.3" stroke-linejoin="round" filter="url(#rough)"/>
<path d="M247.0 248.0C247.3 247.4 249.3 245.3 250.0 245.0C250.7 244.7 251.8 245.5 252.0 246.0C252.2 246.5 252.2 248.5 251.6 249.0C251.0 249.5 248.2 249.7 247.6 249.6C247.0 249.5 246.7 248.6 247.0 248.0Z" fill="#00ba4e" stroke="#00ba4e" stroke-width="0.5" stroke-linejoin="round" filter="url(#rough)"/>
<path d="M245.8 223.4L243.6 226.6L241.6 230L240.6 232.6" stroke="#1fb8ee" stroke-width="0.9" stroke-linecap="round" stroke-linejoin="round" fill="none"/>
<text x="315.6" y="195.4">Fibroblasts</text>
<path d="M305.4 193L313 193" stroke="#231f20" stroke-width="0.6" fill="none"/>
<text x="199.5" y="208.6">NK cells</text>
<path d="M210.5 210.5L210.5 215.4" stroke="#231f20" stroke-width="0.6" fill="none"/>
<text x="235.5" y="216.5">B cells</text>
<path d="M245 218.3L245 221.9" stroke="#231f20" stroke-width="0.6" fill="none"/>
<text x="302.6" y="221">Smooth muscle</text>
<path d="M320.5 222.6L320.5 233.6" stroke="#231f20" stroke-width="0.6" fill="none"/>
<text x="211.4" y="246.4">T cells</text>
<path d="M218.6 229.5L218.6 239.5" stroke="#231f20" stroke-width="0.6" fill="none"/>
<text x="262.7" y="249">Neurons</text>
<path d="M254 247L260.6 247" stroke="#231f20" stroke-width="0.6" fill="none"/>
<text x="205.5" y="256.4">Macrophages</text>
<text x="205.5" y="264">monocytes</text>
<path d="M235 265L237.6 269.6" stroke="#231f20" stroke-width="0.6" fill="none"/>
<text x="333.2" y="259">Pericytes</text>
<path d="M339.4 245L339.4 253" stroke="#231f20" stroke-width="0.6" fill="none"/>
<text x="286.2" y="297.6">Endothelium</text>
<path d="M305 283L305 290.4" stroke="#231f20" stroke-width="0.6" fill="none"/>
<path d="M379 250.4V305.6H433" stroke="#3a3637" stroke-width="0.85" fill="none"/>
<path d="M379 248.4l-1.6 3.2h3.2z" fill="#231f20"/>
<path d="M435 305.6l-3.2 -1.6v3.2z" fill="#231f20"/>
<text x="376" y="305" transform="rotate(-90 376 305)">UMAP 2</text>
<text x="384.4" y="314">UMAP 1</text>
<text x="477.4" y="318.6">269,794 Cells/nuclei</text>
<path d="M388.4 196.9C388.6 195.9 390.6 194.5 391.7 193.9C392.8 193.3 394.5 192.8 395.9 192.7C397.3 192.6 399.4 192.9 400.9 193.1C402.4 193.3 404.7 193.5 405.9 193.9C407.1 194.3 408.2 195.1 408.8 196.0C409.4 196.9 409.2 198.8 409.7 199.8C410.2 200.8 411.3 201.9 412.2 202.7C413.1 203.5 415.2 204.2 416.0 205.2C416.8 206.2 417.4 208.3 417.6 209.4C417.8 210.5 416.8 211.9 417.2 212.8C417.6 213.7 420.2 214.9 420.1 215.7C420.0 216.4 417.9 217.6 416.8 217.8C415.7 218.0 413.8 216.8 412.6 216.9C411.4 217.0 409.9 217.9 408.8 218.2C407.7 218.5 406.2 219.0 405.1 219.0C404.0 219.0 402.5 218.8 401.7 218.2C400.9 217.6 400.3 216.2 399.6 215.3C398.9 214.4 397.9 213.0 397.1 211.9C396.4 210.8 395.3 209.4 394.6 208.2C393.9 207.0 393.1 205.1 392.5 204.0C391.9 202.9 391.1 201.7 390.5 200.6C389.9 199.5 388.2 197.9 388.4 196.9Z" fill="#ae90fb" stroke="#ae90fb" stroke-width="0.3" stroke-linejoin="round" filter="url(#rough)"/>
<path d="M390.4 201L387.6 204.6L384.8 208.4" stroke="#ae90fb" stroke-width="1.2" stroke-linecap="round" stroke-linejoin="round" fill="none"/>
<path d="M453.8 190.2C453.9 189.2 454.3 187.1 455.0 186.0C455.7 184.9 457.3 183.9 458.4 183.1C459.5 182.3 461.4 181.0 462.5 180.6C463.6 180.2 464.9 180.0 465.5 180.2C466.1 180.4 465.9 181.7 466.7 181.9C467.5 182.1 469.6 181.3 470.9 181.4C472.2 181.5 474.0 181.9 475.1 182.3C476.2 182.7 477.3 183.4 478.0 183.9C478.7 184.4 479.7 184.8 479.7 185.6C479.7 186.4 478.4 188.3 478.0 189.4C477.6 190.5 476.7 191.9 476.8 192.7C476.9 193.5 479.1 194.4 478.8 194.8C478.5 195.2 476.3 195.5 475.1 195.6C473.9 195.7 472.0 194.9 470.9 195.2C469.8 195.5 469.0 196.9 468.0 197.3C467.0 197.7 465.4 197.8 464.2 197.7C463.0 197.6 461.2 197.3 460.0 196.9C458.8 196.5 457.2 195.4 456.3 194.8C455.4 194.2 454.6 193.4 454.2 192.7C453.8 192.0 453.7 191.2 453.8 190.2Z" fill="#f670ef" stroke="#f670ef" stroke-width="0.3" stroke-linejoin="round" filter="url(#rough)"/>
<path d="M468.0 197.3C468.3 196.6 469.8 195.5 470.9 195.2C472.0 194.9 473.9 195.7 475.1 195.6C476.3 195.5 477.9 194.5 478.8 194.8C479.7 195.1 480.3 196.8 480.9 197.7C481.5 198.6 482.0 200.1 482.6 200.7C483.2 201.3 485.0 201.4 485.1 201.9C485.2 202.4 483.4 203.5 483.0 204.0C482.6 204.5 482.1 204.6 482.2 205.3C482.3 206.0 483.0 207.6 483.4 208.6C483.8 209.6 484.7 211.0 485.1 212.0C485.6 213.0 486.0 214.4 486.4 215.3C486.8 216.2 487.5 217.4 487.6 217.8C487.7 218.2 487.2 218.6 486.8 218.2C486.4 217.8 485.7 216.4 485.1 215.3C484.5 214.2 483.6 212.4 483.0 211.1C482.4 209.8 482.0 207.8 481.4 206.9C480.8 206.0 480.2 205.3 479.3 204.8C478.4 204.3 476.2 204.0 475.1 203.6C474.0 203.2 472.6 202.5 471.7 201.9C470.8 201.3 469.8 200.5 469.2 199.8C468.6 199.1 467.7 198.0 468.0 197.3Z" fill="#f8881c" stroke="#f8881c" stroke-width="0.3" stroke-linejoin="round" filter="url(#rough)"/>
<path d="M476.3 229.6C476.3 228.3 478.0 227.2 478.4 226.2C478.8 225.2 478.6 223.7 479.2 222.9C479.8 222.1 481.4 221.2 482.5 220.8C483.6 220.4 485.5 220.5 486.3 219.9C487.1 219.3 487.6 216.9 488.0 217.0C488.4 217.1 488.5 219.8 489.2 220.4C489.9 221.0 491.7 221.2 492.6 221.2C493.5 221.2 494.2 220.1 495.1 220.4C496.0 220.7 497.4 222.0 498.4 222.9C499.4 223.8 500.7 225.3 501.8 226.2C502.9 227.1 505.2 227.6 506.0 228.7C506.8 229.8 506.4 232.4 506.8 233.3C507.2 234.2 508.7 233.7 508.9 234.6C509.1 235.5 507.9 238.0 508.0 239.6C508.1 241.2 509.3 243.9 509.3 245.4C509.3 246.9 508.4 248.3 508.0 249.6C507.6 250.9 507.2 252.4 506.8 253.8C506.4 255.2 505.9 257.7 505.1 258.8C504.4 259.9 502.9 260.6 501.8 260.9C500.7 261.2 498.9 260.8 497.6 260.5C496.3 260.2 494.4 259.6 493.4 258.8C492.4 258.1 491.7 256.4 490.9 255.5C490.1 254.6 488.8 253.9 488.0 253.0C487.2 252.1 486.3 250.6 485.5 249.6C484.7 248.6 483.3 247.3 482.5 246.3C481.7 245.3 480.5 244.0 480.0 242.9C479.5 241.8 479.4 240.0 479.2 238.8C479.0 237.6 478.8 236.0 478.4 234.6C478.0 233.2 476.3 230.9 476.3 229.6Z" fill="#c4960c" stroke="#c4960c" stroke-width="0.3" stroke-linejoin="round" filter="url(#rough)"/>
<path d="M409.1 239.7C409.7 239.0 411.9 238.3 412.7 237.2C413.5 236.1 414.0 233.4 414.7 232.6C415.4 231.8 416.4 231.7 417.2 232.1C418.0 232.5 419.3 234.6 420.3 235.1C421.3 235.6 423.0 235.2 423.9 235.6C424.8 236.0 425.6 237.6 426.4 237.7C427.2 237.8 428.4 236.2 429.5 236.1C430.6 235.9 432.3 236.6 433.5 236.7C434.7 236.8 436.7 236.5 437.6 236.7C438.5 236.8 439.2 237.0 439.6 237.7C440.0 238.4 439.7 240.2 440.2 241.2C440.7 242.2 442.2 243.5 443.2 244.3C444.2 245.1 445.6 246.4 446.8 246.8C448.0 247.2 450.3 247.5 451.4 247.3C452.5 247.2 453.1 245.7 453.9 245.8C454.6 245.9 456.2 247.3 456.4 247.9C456.6 248.5 456.1 249.5 455.4 249.9C454.7 250.3 452.9 250.5 451.9 250.9C450.9 251.3 449.9 252.3 448.8 252.9C447.7 253.5 445.9 254.5 444.7 255.0C443.5 255.5 441.9 255.8 440.7 256.0C439.5 256.1 437.5 255.7 436.6 256.0C435.7 256.3 435.3 257.9 434.5 258.0C433.7 258.1 432.4 257.4 431.5 257.0C430.6 256.6 429.3 256.1 428.4 255.5C427.5 254.9 426.3 253.7 425.4 252.9C424.5 252.1 423.2 250.8 422.3 249.9C421.4 249.0 420.4 247.6 419.3 246.8C418.2 246.0 416.4 244.8 415.2 244.3C414.0 243.8 412.1 243.7 411.1 243.3C410.1 242.9 408.9 242.2 408.6 241.7C408.3 241.2 408.5 240.4 409.1 239.7Z" fill="#98a60a" stroke="#98a60a" stroke-width="0.3" stroke-linejoin="round" filter="url(#rough)"/>
<path d="M383.0 251.0C383.4 249.9 385.6 248.0 387.0 247.6C388.4 247.2 390.5 247.9 392.0 248.4C393.5 248.9 395.5 250.2 397.0 251.0C398.5 251.8 400.9 252.7 402.0 254.0C403.1 255.3 404.2 258.6 404.4 260.0C404.5 261.4 404.0 262.7 403.0 263.0C402.0 263.3 399.5 262.4 398.0 262.0C396.5 261.6 394.5 260.6 393.0 260.0C391.5 259.4 389.3 258.8 388.0 258.0C386.7 257.2 385.1 256.1 384.4 255.0C383.6 253.9 382.6 252.1 383.0 251.0Z" fill="#f066e0" stroke="#f066e0" stroke-width="0.5" stroke-linejoin="round" filter="url(#rough)"/>
<path d="M444.4 295.2C443.9 294.4 444.0 291.0 444.0 289.6C444.0 288.2 444.4 284.3 444.8 283.2C445.2 282.1 446.9 280.7 447.6 280.0C448.3 279.3 450.3 278.5 450.8 277.6C451.3 276.7 451.6 272.5 452.0 272.0C452.4 271.5 453.7 274.0 454.4 273.6C455.1 273.2 457.6 269.7 458.4 268.8C459.2 267.9 460.5 266.0 461.2 265.6C461.9 265.2 463.4 264.9 464.0 265.2C464.6 265.5 465.7 267.3 466.4 268.0C467.1 268.7 469.5 270.6 470.0 271.2C470.5 271.8 470.7 272.6 470.4 273.2C470.1 273.8 468.1 275.3 467.6 276.0C467.1 276.7 465.9 278.7 466.4 279.2C466.9 279.7 471.1 279.8 472.0 280.4C472.9 281.0 473.7 283.3 474.4 284.0C475.1 284.7 477.6 285.6 477.6 286.0C477.6 286.4 475.2 287.2 474.4 287.6C473.6 288.0 471.3 288.8 470.4 289.2C469.5 289.6 467.2 290.7 466.4 291.2C465.6 291.7 464.1 293.1 463.2 293.6C462.3 294.1 459.6 295.3 458.4 295.6C457.2 295.9 454.0 296.3 452.8 296.4C451.6 296.5 449.0 296.5 448.0 296.4C447.0 296.3 444.9 296.0 444.4 295.2Z" fill="#f8766d" stroke="#f8766d" stroke-width="0.3" stroke-linejoin="round" filter="url(#rough)"/>
<path d="M407.0 295.0C407.2 293.2 408.1 290.6 409.0 289.0C409.9 287.4 411.4 285.4 412.4 285.6C413.4 285.8 414.1 288.4 415.0 290.0C415.9 291.6 416.5 293.5 418.0 295.0C419.5 296.5 422.8 297.9 424.0 299.0C425.2 300.1 425.8 301.1 425.0 301.6C424.2 302.1 421.0 302.2 419.0 302.0C417.0 301.8 414.8 300.7 413.0 300.4C411.2 300.1 409.0 300.9 408.0 300.0C407.0 299.1 406.8 296.8 407.0 295.0Z" fill="#fb61b0" stroke="#fb61b0" stroke-width="0.5" stroke-linejoin="round" filter="url(#rough)"/>
<path d="M433.0 196.0C433.3 195.6 435.1 196.1 436.0 197.0C436.9 197.9 439.9 202.3 440.0 203.0C440.1 203.7 437.8 202.8 437.0 202.4C436.2 202.0 434.5 200.9 434.0 200.0C433.5 199.1 432.7 196.4 433.0 196.0Z" fill="#2fb93a" stroke="#2fb93a" stroke-width="0.5" stroke-linejoin="round" filter="url(#rough)"/>
<path d="M452.0 212.4C452.3 212.0 454.4 213.0 455.0 214.0C455.6 215.0 456.7 219.1 456.6 220.0C456.5 220.9 454.5 221.4 454.0 221.0C453.5 220.6 452.9 218.1 452.6 217.0C452.3 215.9 451.7 212.8 452.0 212.4Z" fill="#00ba4e" stroke="#00ba4e" stroke-width="0.5" stroke-linejoin="round" filter="url(#rough)"/>
<path d="M437.4 214.2L441.4 216.4L438.4 218" stroke="#00a5ff" stroke-width="1.1" stroke-linecap="round" stroke-linejoin="round" fill="none"/>
<path d="M392 230L396.4 233L394.2 229.4L394.4 234.4L391.6 233.2L397 231" stroke="#00bfc4" stroke-width="0.9" stroke-linecap="round" stroke-linejoin="round" fill="none"/>
<path d="M460.6 232L462.4 236.4L464.4 233L462.4 236.4L460.4 238.6L462.4 236.4L470 240.4L477.6 243" stroke="#00c08f" stroke-width="1.1" stroke-linecap="round" stroke-linejoin="round" fill="none"/>
<path d="M426 186L426.6 185" stroke="#1fb8ee" stroke-width="1" stroke-linecap="round" stroke-linejoin="round" fill="none"/>
<path d="M473 205L473 211" stroke="#e8a43c" stroke-width="0.6" fill="none"/>
<text x="420.6" y="180">B cells</text>
<path d="M428 181L426.2 185.4" stroke="#231f20" stroke-width="0.6" fill="none"/>
<text x="370.6" y="185">Macrophages</text>
<text x="370.6" y="191.8">monocytes</text>
<path d="M393 192L390 196.4" stroke="#231f20" stroke-width="0.6" fill="none"/>
<text x="416" y="193.5">Lymphatics</text>
<path d="M436 194L436 197" stroke="#231f20" stroke-width="0.6" fill="none"/>
<text x="483.6" y="186.4">Pericytes</text>
<path d="M479 184L482.4 184" stroke="#231f20" stroke-width="0.6" fill="none"/>
<text x="489" y="200.2">Smooth</text>
<text x="489" y="209.2">muscle</text>
<path d="M483 201.2L487 201.2" stroke="#231f20" stroke-width="0.6" fill="none"/>
<text x="443.6" y="209.8">Neurons</text>
<path d="M455.4 210.4L455.4 214" stroke="#231f20" stroke-width="0.6" fill="none"/>
<text x="403" y="225">Adipocytes</text>
<path d="M437.4 220L440.4 217.2" stroke="#231f20" stroke-width="0.6" fill="none"/>
<text x="441" y="228">Epicardium</text>
<path d="M462.4 229L462.4 233" stroke="#231f20" stroke-width="0.6" fill="none"/>
<text x="388.4" y="243.6">Mast</text>
<path d="M394.4 233.4L394.4 238" stroke="#231f20" stroke-width="0.6" fill="none"/>
<text x="413" y="265.6">Endothelium</text>
<path d="M431 256L431 260" stroke="#231f20" stroke-width="0.6" fill="none"/>
<text x="382" y="274.2">Endocardium</text>
<path d="M399 263L399 269" stroke="#231f20" stroke-width="0.6" fill="none"/>
<text x="493" y="269.6">Fibroblasts</text>
<path d="M500 260L500 263.4" stroke="#231f20" stroke-width="0.6" fill="none"/>
<text x="381" y="295.6">T cells</text>
<text x="381" y="303.2">NK cells</text>
<path d="M403 296L408 293" stroke="#231f20" stroke-width="0.6" fill="none"/>
<text x="470" y="300.8">Cardiomyocytes</text>
<path d="M468 290.6L471 294" stroke="#231f20" stroke-width="0.6" fill="none"/>
<text x="7.8" y="341.4" font-size="8.5" font-weight="bold" fill="#000">d</text>
<text x="43.8" y="349.20000000000005" text-anchor="end">RYR2</text>
<text x="43.8" y="374.04" text-anchor="end">MYH11</text>
<text x="43.8" y="398.88000000000005" text-anchor="end">DCN</text>
<text x="43.8" y="423.72" text-anchor="end">VWF</text>
<text x="43.8" y="448.56000000000006" text-anchor="end">CCL21</text>
<text x="43.8" y="473.40000000000003" text-anchor="end">NRXN1</text>
<text x="43.8" y="498.24" text-anchor="end">HAS1</text>
<text x="43.8" y="523.08" text-anchor="end">KIT</text>
<text x="43.8" y="547.9200000000001" text-anchor="end">MZB1</text>
<text x="43.8" y="572.7600000000001" text-anchor="end">PLIN1</text>
<text x="43.8" y="597.6" text-anchor="end">C1QC</text>
<text x="43.8" y="622.44" text-anchor="end">KCNJ8</text>
<text x="43.8" y="647.2800000000001" text-anchor="end">LEPR</text>
<text x="43.8" y="672.12" text-anchor="end">CD3E</text>
<text x="62.9" y="685" text-anchor="end" transform="rotate(-90 62.90 685)">CM</text>
<text x="80.45" y="685" text-anchor="end" transform="rotate(-90 80.45 685)">SM</text>
<text x="98.0" y="685" text-anchor="end" transform="rotate(-90 98.00 685)">FB</text>
<text x="115.55000000000001" y="685" text-anchor="end" transform="rotate(-90 115.55 685)">Endo</text>
<text x="133.1" y="685" text-anchor="end" transform="rotate(-90 133.10 685)">LEC</text>
<text x="150.65" y="685" text-anchor="end" transform="rotate(-90 150.65 685)">Neuron</text>
<text x="168.20000000000002" y="685" text-anchor="end" transform="rotate(-90 168.20 685)">Epi</text>
<text x="185.75000000000003" y="685" text-anchor="end" transform="rotate(-90 185.75 685)">Mast</text>
<text x="203.3" y="685" text-anchor="end" transform="rotate(-90 203.30 685)">B cells</text>
<text x="220.85000000000002" y="685" text-anchor="end" transform="rotate(-90 220.85 685)">Adipo</text>
<text x="238.4" y="685" text-anchor="end" transform="rotate(-90 238.40 685)">Myeloid</text>
<text x="255.95000000000002" y="685" text-anchor="end" transform="rotate(-90 255.95 685)">PC</text>
<text x="273.5" y="685" text-anchor="end" transform="rotate(-90 273.50 685)">EC</text>
<text x="291.04999999999995" y="685" text-anchor="end" transform="rotate(-90 291.05 685)">NK/T cells</text>
<defs><filter id="soft" x="-2%" y="-2%" width="104%" height="104%"><feGaussianBlur stdDeviation="0.45"/></filter></defs>
<path d="M53.1 358.1h14.8M70.6 358.1h14.8M88.2 358.1h14.8M105.8 358.1h14.8M123.3 358.1h14.8M140.8 358.1h14.8M158.4 358.1h14.8M176.0 358.1h14.8M193.5 358.1h14.8M211.1 358.1h14.8M228.6 358.1h14.8M246.2 358.1h14.8M263.7 358.1h14.8M281.2 358.1h14.8M53.1 382.9h14.8M70.6 382.9h14.8M88.2 382.9h14.8M105.8 382.9h14.8M123.3 382.9h14.8M140.8 382.9h14.8M158.4 382.9h14.8M176.0 382.9h14.8M193.5 382.9h14.8M211.1 382.9h14.8M228.6 382.9h14.8M246.2 382.9h14.8M263.7 382.9h14.8M281.2 382.9h14.8M53.1 407.8h14.8M70.6 407.8h14.8M88.2 407.8h14.8M105.8 407.8h14.8M123.3 407.8h14.8M140.8 407.8h14.8M158.4 407.8h14.8M176.0 407.8h14.8M193.5 407.8h14.8M211.1 407.8h14.8M228.6 407.8h14.8M246.2 407.8h14.8M263.7 407.8h14.8M281.2 407.8h14.8M53.1 432.6h14.8M70.6 432.6h14.8M88.2 432.6h14.8M105.8 432.6h14.8M123.3 432.6h14.8M140.8 432.6h14.8M158.4 432.6h14.8M176.0 432.6h14.8M193.5 432.6h14.8M211.1 432.6h14.8M228.6 432.6h14.8M246.2 432.6h14.8M263.7 432.6h14.8M281.2 432.6h14.8M53.1 457.5h14.8M70.6 457.5h14.8M88.2 457.5h14.8M105.8 457.5h14.8M123.3 457.5h14.8M140.8 457.5h14.8M158.4 457.5h14.8M176.0 457.5h14.8M193.5 457.5h14.8M211.1 457.5h14.8M228.6 457.5h14.8M246.2 457.5h14.8M263.7 457.5h14.8M281.2 457.5h14.8M53.1 482.3h14.8M70.6 482.3h14.8M88.2 482.3h14.8M105.8 482.3h14.8M123.3 482.3h14.8M140.8 482.3h14.8M158.4 482.3h14.8M176.0 482.3h14.8M193.5 482.3h14.8M211.1 482.3h14.8M228.6 482.3h14.8M246.2 482.3h14.8M263.7 482.3h14.8M281.2 482.3h14.8M53.1 507.1h14.8M70.6 507.1h14.8M88.2 507.1h14.8M105.8 507.1h14.8M123.3 507.1h14.8M140.8 507.1h14.8M158.4 507.1h14.8M176.0 507.1h14.8M193.5 507.1h14.8M211.1 507.1h14.8M228.6 507.1h14.8M246.2 507.1h14.8M263.7 507.1h14.8M281.2 507.1h14.8M53.1 532.0h14.8M70.6 532.0h14.8M88.2 532.0h14.8M105.8 532.0h14.8M123.3 532.0h14.8M140.8 532.0h14.8M158.4 532.0h14.8M176.0 532.0h14.8M193.5 532.0h14.8M211.1 532.0h14.8M228.6 532.0h14.8M246.2 532.0h14.8M263.7 532.0h14.8M281.2 532.0h14.8M53.1 556.8h14.8M70.6 556.8h14.8M88.2 556.8h14.8M105.8 556.8h14.8M123.3 556.8h14.8M140.8 556.8h14.8M158.4 556.8h14.8M176.0 556.8h14.8M193.5 556.8h14.8M211.1 556.8h14.8M228.6 556.8h14.8M246.2 556.8h14.8M263.7 556.8h14.8M281.2 556.8h14.8M53.1 581.7h14.8M70.6 581.7h14.8M88.2 581.7h14.8M105.8 581.7h14.8M123.3 581.7h14.8M140.8 581.7h14.8M158.4 581.7h14.8M176.0 581.7h14.8M193.5 581.7h14.8M211.1 581.7h14.8M228.6 581.7h14.8M246.2 581.7h14.8M263.7 581.7h14.8M281.2 581.7h14.8M53.1 606.5h14.8M70.6 606.5h14.8M88.2 606.5h14.8M105.8 606.5h14.8M123.3 606.5h14.8M140.8 606.5h14.8M158.4 606.5h14.8M176.0 606.5h14.8M193.5 606.5h14.8M211.1 606.5h14.8M228.6 606.5h14.8M246.2 606.5h14.8M263.7 606.5h14.8M281.2 606.5h14.8M53.1 631.3h14.8M70.6 631.3h14.8M88.2 631.3h14.8M105.8 631.3h14.8M123.3 631.3h14.8M140.8 631.3h14.8M158.4 631.3h14.8M176.0 631.3h14.8M193.5 631.3h14.8M211.1 631.3h14.8M228.6 631.3h14.8M246.2 631.3h14.8M263.7 631.3h14.8M281.2 631.3h14.8M53.1 656.2h14.8M70.6 656.2h14.8M88.2 656.2h14.8M105.8 656.2h14.8M123.3 656.2h14.8M140.8 656.2h14.8M158.4 656.2h14.8M176.0 656.2h14.8M193.5 656.2h14.8M211.1 656.2h14.8M228.6 656.2h14.8M246.2 656.2h14.8M263.7 656.2h14.8M281.2 656.2h14.8M53.1 681.0h14.8M70.6 681.0h14.8M88.2 681.0h14.8M105.8 681.0h14.8M123.3 681.0h14.8M140.8 681.0h14.8M158.4 681.0h14.8M176.0 681.0h14.8M193.5 681.0h14.8M211.1 681.0h14.8M228.6 681.0h14.8M246.2 681.0h14.8M263.7 681.0h14.8M281.2 681.0h14.8" stroke="#dcdcdc" stroke-width="0.6" fill="none"/>
<path d="M53.2 353.1h14.5M71.4 353.1h13.3M88.9 353.1h13.4M107.0 353.1h12.2M123.9 353.1h13.7M140.9 353.1h14.7M160.0 353.1h11.7M177.7 353.1h11.3M211.9 353.1h13.0M229.6 353.1h12.8M246.2 353.1h14.8M265.0 353.1h12.3M283.0 353.1h11.4M54.2 377.9h12.5M72.1 377.9h11.9M88.2 377.9h14.7M106.2 377.9h14.0M123.4 377.9h14.7M159.2 377.9h13.2M177.6 377.9h11.6M194.9 377.9h12.1M212.5 377.9h11.9M230.3 377.9h11.5M246.6 377.9h14.0M265.4 377.9h11.4M282.0 377.9h13.3M53.2 402.8h14.6M70.9 402.8h14.3M88.5 402.8h14.1M106.2 402.8h13.8M123.4 402.8h14.6M142.5 402.8h11.5M158.9 402.8h13.7M177.3 402.8h12.2M211.8 402.8h13.4M230.1 402.8h11.9M247.2 402.8h12.7M264.9 402.8h12.5M282.4 402.8h12.4M53.7 427.6h13.7M72.5 427.6h11.2M88.3 427.6h14.7M106.7 427.6h12.9M125.0 427.6h11.4M141.4 427.6h13.7M158.6 427.6h14.4M176.7 427.6h13.2M195.2 427.6h11.4M212.2 427.6h12.5M228.9 427.6h14.2M247.9 427.6h11.2M265.1 427.6h12.0M281.4 427.6h14.5M53.7 452.5h13.6M71.3 452.5h13.5M89.4 452.5h12.3M106.8 452.5h12.7M124.4 452.5h12.5M141.2 452.5h14.2M159.9 452.5h11.7M177.0 452.5h12.6M193.5 452.5h14.7M229.9 452.5h12.2M247.2 452.5h12.8M265.3 452.5h11.6M281.9 452.5h13.4M54.6 477.3h11.8M89.7 477.3h11.8M106.3 477.3h13.7M124.4 477.3h12.6M141.0 477.3h14.6M159.1 477.3h13.4M176.3 477.3h14.0M194.0 477.3h13.8M211.2 477.3h14.4M229.9 477.3h12.3M264.6 477.3h12.9M54.7 502.1h11.6M70.9 502.1h14.2M88.3 502.1h14.6M107.1 502.1h12.2M124.1 502.1h13.2M141.0 502.1h14.4M159.3 502.1h13.0M176.7 502.1h13.3M194.6 502.1h12.6M212.8 502.1h11.3M228.7 502.1h14.5M264.7 502.1h12.9M281.4 502.1h14.5M71.9 527.0h12.3M89.9 527.0h11.5M106.7 527.0h13.0M124.3 527.0h12.7M142.4 527.0h11.7M159.3 527.0h13.1M176.4 527.0h13.8M193.6 527.0h14.5M212.7 527.0h11.6M230.3 527.0h11.5M247.8 527.0h11.6M265.5 527.0h11.2M281.3 527.0h14.7M54.0 551.8h13.0M89.1 551.8h13.0M107.2 551.8h11.9M141.3 551.8h13.9M159.5 551.8h12.7M177.5 551.8h11.8M195.0 551.8h11.8M229.3 551.8h13.4M246.2 551.8h14.7M264.1 551.8h14.0M281.8 551.8h13.7M54.8 576.7h11.4M88.9 576.7h13.4M107.0 576.7h12.3M123.3 576.7h14.8M142.7 576.7h11.2M160.2 576.7h11.3M194.4 576.7h13.0M211.4 576.7h14.1M230.4 576.7h11.3M247.1 576.7h12.9M264.6 576.7h13.0M282.1 576.7h13.2M54.9 601.5h11.2M71.1 601.5h13.9M88.7 601.5h13.9M105.9 601.5h14.6M124.3 601.5h12.9M141.4 601.5h13.8M159.1 601.5h13.3M177.4 601.5h11.9M212.4 601.5h12.1M228.6 601.5h14.8M265.0 601.5h12.1M281.7 601.5h13.9M53.3 626.2h14.5M71.7 626.2h12.7M106.4 626.2h13.4M124.5 626.2h12.4M159.5 626.2h12.7M176.6 626.2h13.5M193.6 626.2h14.5M229.6 626.2h12.9M247.9 626.2h11.4M282.6 626.2h12.1M54.3 651.2h12.5M70.8 651.2h14.5M88.6 651.2h14.1M106.9 651.2h12.6M124.5 651.2h12.4M142.0 651.2h12.5M159.2 651.2h13.1M176.2 651.2h14.4M194.3 651.2h13.1M212.8 651.2h11.3M247.7 651.2h11.6M265.1 651.2h11.9M282.4 651.2h12.6M54.0 676.0h12.9M71.7 676.0h12.6M88.6 676.0h14.1M106.4 676.0h13.5M124.4 676.0h12.7M142.0 676.0h12.5M159.7 676.0h12.2M212.8 676.0h11.2M230.0 676.0h11.9M247.6 676.0h11.9M264.1 676.0h13.9M281.6 676.0h14.1" stroke="#e4e4e4" stroke-width="0.6" fill="none"/>
<path d="M72.2 350.8h11.8M88.6 350.8h14.0M107.4 350.8h11.4M125.1 350.8h11.3M141.5 350.8h13.5M160.2 350.8h11.2M177.4 350.8h11.8M212.0 350.8h12.9M229.9 350.8h12.1M246.4 350.8h14.2M265.1 350.8h11.9M281.7 350.8h13.9M53.4 375.6h14.2M70.8 375.6h14.5M89.3 375.6h12.6M124.9 375.6h11.5M177.6 375.6h11.5M193.9 375.6h14.1M230.1 375.6h11.9M247.4 375.6h12.3M265.4 375.6h11.4M54.1 400.5h12.9M72.2 400.5h11.8M105.9 400.5h14.6M123.5 400.5h14.4M230.4 400.5h11.2M247.9 400.5h11.3M264.5 400.5h13.2M281.5 400.5h14.4M54.7 425.3h11.6M70.8 425.3h14.5M90.0 425.3h11.2M106.2 425.3h13.8M123.8 425.3h13.8M141.0 425.3h14.5M159.5 425.3h12.6M177.1 425.3h12.5M193.5 425.3h14.8M211.8 425.3h13.2M230.3 425.3h11.4M246.9 425.3h13.3M264.3 425.3h13.7M88.8 450.2h13.6M106.1 450.2h14.1M124.6 450.2h12.3M141.4 450.2h13.7M176.9 450.2h12.9M212.8 450.2h11.3M230.4 450.2h11.2M248.0 450.2h11.2M281.6 450.2h14.1M89.5 475.0h12.1M106.6 475.0h13.0M123.5 475.0h14.5M141.4 475.0h13.8M159.6 475.0h12.5M176.9 475.0h12.8M194.2 475.0h13.5M211.1 475.0h14.7M228.9 475.0h14.3M282.8 475.0h11.7M70.8 499.8h14.6M89.9 499.8h11.4M106.4 499.8h13.5M159.9 499.8h11.8M194.3 499.8h13.2M212.1 499.8h12.6M230.0 499.8h12.1M88.7 524.7h13.8M107.1 524.7h12.0M159.1 524.7h13.4M176.1 524.7h14.4M229.7 524.7h12.7M247.3 524.7h12.6M265.2 524.7h11.8M54.6 549.5h11.8M89.0 549.5h13.2M105.8 549.5h14.8M160.2 549.5h11.1M211.4 549.5h14.1M247.5 549.5h12.1M264.8 549.5h12.6M281.7 549.5h13.9M89.6 574.4h12.0M106.5 574.4h13.2M123.9 574.4h13.7M141.3 574.4h13.8M194.3 574.4h13.2M230.2 574.4h11.7M247.9 574.4h11.3M264.9 574.4h12.5M90.0 599.2h11.3M107.5 599.2h11.4M124.7 599.2h12.0M212.1 599.2h12.7M229.1 599.2h13.8M246.5 599.2h14.0M264.5 599.2h13.2M54.9 621.1h11.2M72.3 621.1h11.5M123.6 621.1h14.2M141.5 621.1h13.4M177.2 621.1h12.3M212.8 621.1h11.4M229.9 621.1h12.2M247.6 621.1h11.9M70.8 648.9h14.5M89.5 648.9h12.2M105.9 648.9h14.6M159.2 648.9h13.2M193.6 648.9h14.7M211.4 648.9h14.0M228.8 648.9h14.4M246.8 648.9h13.5M264.1 648.9h13.9M53.6 673.7h13.8M71.3 673.7h13.6M88.5 673.7h14.2M106.3 673.7h13.7M160.1 673.7h11.3M176.4 673.7h14.0M230.0 673.7h12.0M282.2 673.7h12.9" stroke="#ececec" stroke-width="0.6" fill="none"/>
<path filter="url(#soft)" d="M124.8 352.1h11.8M123.7 353.1h14.1M123.4 354.1h14.5M123.4 355.1h14.5M142.3 351.6h11.8M141.4 352.6h13.7M141.0 353.6h14.5M141.0 354.6h14.5M159.9 351.6h11.8M158.9 352.6h13.7M158.5 353.6h14.5M158.5 354.6h14.5M177.4 352.1h11.8M176.3 353.1h14.1M176.1 354.1h14.5M176.1 355.1h14.5M265.2 348.6h11.8M264.7 349.6h12.9M264.2 350.6h13.9M263.8 351.6h14.5M263.8 352.6h14.5M263.8 353.6h14.5M263.8 354.6h14.5M282.7 348.6h11.8M282.2 349.6h12.9M281.7 350.6h13.9M281.4 351.6h14.5M281.4 352.6h14.5M281.4 353.6h14.5M281.4 354.6h14.5M72.1 361.9h11.8M71.7 362.9h12.7M71.3 363.9h13.5M70.9 364.9h14.3M70.8 365.9h14.5M70.8 366.9h14.5M70.8 367.9h14.5M70.8 368.9h14.5M70.8 369.9h14.5M89.7 376.9h11.8M88.3 377.9h14.5M88.3 378.9h14.5M247.6 375.9h11.8M246.5 376.9h14.1M246.3 377.9h14.5M246.3 378.9h14.5M265.2 367.9h11.8M264.7 368.9h12.7M264.3 369.9h13.6M263.9 370.9h14.5M263.8 371.9h14.5M263.8 372.9h14.5M263.8 373.9h14.5M263.8 374.9h14.5M54.6 401.8h11.8M53.5 402.8h14.1M53.2 403.8h14.5M53.2 404.8h14.5M124.8 402.8h11.8M123.4 403.8h14.5M123.4 404.8h14.5M230.1 393.8h11.8M229.8 394.8h12.5M229.4 395.8h13.1M229.1 396.8h13.7M228.8 397.8h14.4M228.7 398.8h14.5M228.7 399.8h14.5M228.7 400.8h14.5M228.7 401.8h14.5M228.7 402.8h14.5M228.7 403.8h14.5M265.2 401.8h11.8M264.1 402.8h14.1M263.8 403.8h14.5M263.8 404.8h14.5M282.7 400.8h11.8M281.9 401.8h13.5M281.4 402.8h14.5M281.4 403.8h14.5M281.4 404.8h14.5M72.1 425.6h11.8M71.0 426.6h14.1M70.8 427.6h14.5M70.8 428.6h14.5M89.7 425.6h11.8M88.6 426.6h14.1M88.3 427.6h14.5M88.3 428.6h14.5M230.1 425.6h11.8M229.0 426.6h14.1M228.7 427.6h14.5M228.7 428.6h14.5M247.6 425.6h11.8M246.5 426.6h14.1M246.3 427.6h14.5M246.3 428.6h14.5M89.7 451.5h11.8M88.3 452.5h14.5M88.3 453.5h14.5M107.2 451.5h11.8M105.9 452.5h14.5M105.9 453.5h14.5M247.6 451.5h11.8M246.3 452.5h14.5M246.3 453.5h14.5M89.7 475.3h11.8M88.6 476.3h14.1M88.3 477.3h14.5M88.3 478.3h14.5M142.3 461.3h11.8M142.1 462.3h12.4M141.8 463.3h12.9M141.6 464.3h13.4M141.3 465.3h13.9M141.0 466.3h14.4M141.0 467.3h14.5M141.0 468.3h14.5M141.0 469.3h14.5M141.0 470.3h14.5M141.0 471.3h14.5M141.0 472.3h14.5M141.0 473.3h14.5M141.0 474.3h14.5M89.7 524.0h11.8M88.8 525.0h13.5M88.3 526.0h14.5M88.3 527.0h14.5M88.3 528.0h14.5M247.6 525.0h11.8M246.5 526.0h14.1M246.3 527.0h14.5M246.3 528.0h14.5M89.7 550.8h11.8M88.3 551.8h14.5M88.3 552.8h14.5M89.7 575.7h11.8M88.3 576.7h14.5M88.3 577.7h14.5M89.7 599.5h11.8M88.6 600.5h14.1M88.3 601.5h14.5M88.3 602.5h14.5M107.2 599.5h11.8M106.1 600.5h14.1M105.9 601.5h14.5M105.9 602.5h14.5M89.7 673.0h11.8M89.0 674.0h13.2M88.3 675.0h14.5M88.3 676.0h14.5M88.3 677.0h14.5M88.3 678.0h14.5M230.1 674.0h11.8M229.0 675.0h14.1M228.7 676.0h14.5M228.7 677.0h14.5" stroke="#d8d8d8" stroke-width="1" stroke-dasharray="0.7 0.55" fill="none" opacity="0.6"/>
<path filter="url(#soft)" d="M72.1 347.1h11.8M71.7 348.1h12.7M71.3 349.1h13.5M70.9 350.1h14.3M70.8 351.1h14.5M70.8 352.1h14.5M70.8 353.1h14.5M70.8 354.1h14.5M70.8 355.1h14.5M88.3 348.5h14.5M88.3 349.5h14.5M88.3 350.5h14.5M88.3 351.5h14.5M88.3 352.5h14.5M88.3 353.5h14.5M107.2 347.1h11.8M106.8 348.1h12.8M106.3 349.1h13.7M105.9 350.1h14.5M105.9 351.1h14.5M105.9 352.1h14.5M105.9 353.1h14.5M105.9 354.1h14.5M230.1 348.6h11.8M229.6 349.6h12.9M229.1 350.6h13.9M228.7 351.6h14.5M228.7 352.6h14.5M228.7 353.6h14.5M228.7 354.6h14.5M247.6 348.6h11.8M247.1 349.6h12.9M246.6 350.6h13.9M246.3 351.6h14.5M246.3 352.6h14.5M246.3 353.6h14.5M246.3 354.6h14.5M72.1 397.8h11.8M71.7 398.8h12.8M71.2 399.8h13.7M70.8 400.8h14.5M70.8 401.8h14.5M70.8 402.8h14.5M70.8 403.8h14.5M70.8 404.8h14.5M107.2 393.8h11.8M106.9 394.8h12.4M106.6 395.8h13.1M106.3 396.8h13.7M106.0 397.8h14.3M105.9 398.8h14.5M105.9 399.8h14.5M105.9 400.8h14.5M105.9 401.8h14.5M105.9 402.8h14.5M105.9 403.8h14.5M105.9 404.8h14.5M246.3 396.8h14.5M246.3 397.8h14.5M246.3 398.8h14.5M107.2 412.6h11.8M106.8 413.6h12.8M106.3 414.6h13.7M105.9 415.6h14.5M105.9 416.6h14.5M105.9 417.6h14.5M105.9 418.6h14.5M105.9 419.6h14.5M265.2 413.6h11.8M264.6 414.6h13.0M264.1 415.6h14.1M263.8 416.6h14.5M263.8 417.6h14.5M263.8 418.6h14.5M263.8 419.6h14.5M107.2 470.3h11.8M106.8 471.3h12.8M106.3 472.3h13.7M105.9 473.3h14.5M105.9 474.3h14.5M105.9 475.3h14.5M105.9 476.3h14.5M105.9 477.3h14.5M89.7 493.1h11.8M89.3 494.1h12.5M89.0 495.1h13.2M88.7 496.1h13.8M88.3 497.1h14.5M88.3 498.1h14.5M88.3 499.1h14.5M88.3 500.1h14.5M88.3 501.1h14.5M88.3 502.1h14.5M88.3 503.1h14.5M230.1 495.1h11.8M229.7 496.1h12.7M229.2 497.1h13.5M228.8 498.1h14.3M228.7 499.1h14.5M228.7 500.1h14.5M228.7 501.1h14.5M228.7 502.1h14.5M228.7 503.1h14.5M107.2 522.0h11.8M106.7 523.0h13.0M106.1 524.0h14.1M105.9 525.0h14.5M105.9 526.0h14.5M105.9 527.0h14.5M105.9 528.0h14.5M265.2 518.0h11.8M264.8 519.0h12.6M264.4 520.0h13.3M264.1 521.0h14.1M263.8 522.0h14.5M263.8 523.0h14.5M263.8 524.0h14.5M263.8 525.0h14.5M263.8 526.0h14.5M263.8 527.0h14.5M247.6 611.3h11.8M247.3 612.3h12.6M246.9 613.3h13.3M246.5 614.3h14.1M246.3 615.3h14.5M246.3 616.3h14.5M246.3 617.3h14.5M246.3 618.3h14.5M246.3 619.3h14.5M246.3 620.3h14.5M88.3 645.8h14.5M88.3 646.8h14.5M105.9 645.8h14.5M105.9 646.8h14.5M265.2 636.7h11.8M264.5 637.7h13.2M263.8 638.7h14.5M263.8 639.7h14.5M263.8 640.7h14.5M263.8 641.7h14.5M282.7 661.5h11.8M282.3 662.5h12.6M281.9 663.5h13.4M281.6 664.5h14.2M281.4 665.5h14.5M281.4 666.5h14.5M281.4 667.5h14.5M281.4 668.5h14.5M281.4 669.5h14.5" stroke="#c6c6c6" stroke-width="1" stroke-dasharray="0.7 0.5" fill="none" opacity="0.65"/>
<path filter="url(#soft)" d="M89.7 343.5h11.8M89.4 344.5h12.5M89.1 345.5h13.1M88.8 346.5h13.7M88.5 347.5h14.3M247.6 394.8h11.8M246.9 395.8h13.4M89.7 643.8h11.8M88.8 644.8h13.6M107.2 643.8h11.8M106.4 644.8h13.6" stroke="#a4a4a4" stroke-width="1" stroke-dasharray="0.75 0.45" fill="none" opacity="0.75"/>
<path d="M60.5 358.4v-11.5M78.0 358.4v-13.0M95.6 358.4v-16.6M113.2 358.4v-13.0M130.7 358.4v-15.4M148.2 358.4v-17.3M165.8 358.4v-13.3M183.4 358.4v-12.3M200.9 358.4v-9.2M218.5 358.4v-11.3M236.0 358.4v-13.8M253.6 358.4v-17.5M271.1 358.4v-14.3M288.6 358.4v-11.5M60.5 383.2v-10.9M78.0 383.2v-17.0M95.6 383.2v-11.7M113.2 383.2v-7.3M130.7 383.2v-7.5M148.2 383.2v-9.2M165.8 383.2v-15.3M183.4 383.2v-8.6M200.9 383.2v-11.1M218.5 383.2v-9.8M236.0 383.2v-15.9M253.6 383.2v-9.3M271.1 383.2v-17.0M288.6 383.2v-12.9M60.5 408.1v-11.5M78.0 408.1v-12.8M95.6 408.1v-8.2M113.2 408.1v-16.0M130.7 408.1v-8.7M148.2 408.1v-13.1M165.8 408.1v-17.1M183.4 408.1v-15.6M200.9 408.1v-14.4M218.5 408.1v-12.7M236.0 408.1v-16.6M253.6 408.1v-15.0M271.1 408.1v-8.4M288.6 408.1v-9.0M60.5 432.9v-17.3M78.0 432.9v-9.0M95.6 432.9v-14.2M113.2 432.9v-17.0M130.7 432.9v-10.0M148.2 432.9v-16.4M165.8 432.9v-10.4M183.4 432.9v-15.2M200.9 432.9v-12.9M218.5 432.9v-16.2M236.0 432.9v-11.3M253.6 432.9v-14.8M271.1 432.9v-17.0M288.6 432.9v-12.0M60.5 457.8v-6.6M78.0 457.8v-8.4M95.6 457.8v-16.3M113.2 457.8v-8.7M130.7 457.8v-16.6M148.2 457.8v-8.0M165.8 457.8v-17.0M183.4 457.8v-9.5M200.9 457.8v-10.0M218.5 457.8v-7.3M236.0 457.8v-14.3M253.6 457.8v-8.0M271.1 457.8v-15.6M288.6 457.8v-13.4M60.5 482.6v-17.0M78.0 482.6v-8.5M95.6 482.6v-14.4M113.2 482.6v-14.0M130.7 482.6v-13.3M148.2 482.6v-17.0M165.8 482.6v-7.9M183.4 482.6v-12.8M200.9 482.6v-13.7M218.5 482.6v-14.4M236.0 482.6v-12.4M253.6 482.6v-10.3M271.1 482.6v-12.6M288.6 482.6v-15.4M60.5 507.4v-10.2M78.0 507.4v-12.2M95.6 507.4v-16.0M113.2 507.4v-8.9M130.7 507.4v-12.3M148.2 507.4v-10.7M165.8 507.4v-15.9M183.4 507.4v-12.4M200.9 507.4v-17.2M218.5 507.4v-11.9M236.0 507.4v-17.0M253.6 507.4v-11.7M271.1 507.4v-15.5M288.6 507.4v-8.6M60.5 532.3v-15.1M78.0 532.3v-9.0M95.6 532.3v-13.3M113.2 532.3v-12.0M130.7 532.3v-8.7M148.2 532.3v-11.0M165.8 532.3v-13.4M183.4 532.3v-15.9M200.9 532.3v-10.0M218.5 532.3v-17.5M236.0 532.3v-14.5M253.6 532.3v-15.2M271.1 532.3v-16.0M288.6 532.3v-14.0M60.5 557.1v-12.1M78.0 557.1v-7.3M95.6 557.1v-12.6M113.2 557.1v-8.1M130.7 557.1v-16.7M148.2 557.1v-17.0M165.8 557.1v-11.6M183.4 557.1v-14.2M200.9 557.1v-14.6M218.5 557.1v-12.1M236.0 557.1v-14.3M253.6 557.1v-13.1M271.1 557.1v-16.5M288.6 557.1v-16.4M60.5 582.0v-11.0M78.0 582.0v-11.7M95.6 582.0v-13.5M113.2 582.0v-16.9M130.7 582.0v-12.4M148.2 582.0v-14.9M165.8 582.0v-9.3M183.4 582.0v-10.6M200.9 582.0v-16.5M218.5 582.0v-17.4M236.0 582.0v-13.1M253.6 582.0v-11.7M271.1 582.0v-16.9M288.6 582.0v-9.6M60.5 606.8v-14.4M78.0 606.8v-7.0M95.6 606.8v-16.4M113.2 606.8v-17.4M130.7 606.8v-16.5M148.2 606.8v-12.3M165.8 606.8v-17.3M183.4 606.8v-13.4M200.9 606.8v-12.3M218.5 606.8v-13.8M236.0 606.8v-15.1M253.6 606.8v-9.1M271.1 606.8v-13.4M288.6 606.8v-13.0M60.5 631.6v-9.2M78.0 631.6v-7.2M95.6 631.6v-12.5M113.2 631.6v-13.9M130.7 631.6v-11.8M148.2 631.6v-7.3M165.8 631.6v-15.0M183.4 631.6v-15.4M200.9 631.6v-12.5M218.5 631.6v-10.6M236.0 631.6v-7.4M253.6 631.6v-17.0M271.1 631.6v-13.8M288.6 631.6v-14.5M60.5 656.5v-10.4M78.0 656.5v-14.3M95.6 656.5v-14.4M113.2 656.5v-14.4M130.7 656.5v-16.3M148.2 656.5v-10.5M165.8 656.5v-12.7M183.4 656.5v-8.4M200.9 656.5v-6.7M218.5 656.5v-13.7M236.0 656.5v-7.4M253.6 656.5v-7.4M271.1 656.5v-17.0M288.6 656.5v-12.2M60.5 681.3v-17.2M78.0 681.3v-14.3M95.6 681.3v-15.9M113.2 681.3v-16.3M130.7 681.3v-15.3M148.2 681.3v-14.7M165.8 681.3v-8.7M183.4 681.3v-9.9M200.9 681.3v-8.5M218.5 681.3v-12.9M236.0 681.3v-9.0M253.6 681.3v-14.4M271.1 681.3v-9.6M288.6 681.3v-17.0" stroke="#6e6e6e" stroke-width="0.55" fill="none"/>
<path d="M78.25 347.80C78.35 348.08 78.63 348.88 78.85 349.50C79.07 350.12 79.35 350.77 79.55 351.50C79.75 352.23 80.02 353.23 80.05 353.90C80.08 354.57 79.97 355.07 79.75 355.50C79.53 355.93 78.83 356.23 78.75 356.50C78.67 356.77 78.13 356.91 79.25 357.10C80.37 357.29 84.42 357.48 85.45 357.65C86.48 357.82 85.45 358.03 85.45 358.10L70.65 358.10C70.65 358.03 69.62 357.82 70.65 357.65C71.68 357.48 75.73 357.29 76.85 357.10C77.97 356.91 77.43 356.77 77.35 356.50C77.27 356.23 76.57 355.93 76.35 355.50C76.13 355.07 76.02 354.57 76.05 353.90C76.08 353.23 76.35 352.23 76.55 351.50C76.75 350.77 77.03 350.12 77.25 349.50C77.47 348.88 77.75 348.08 77.85 347.80Z" fill="#f08200"/>
<path d="M113.30 350.10C113.30 350.43 113.28 351.63 113.33 352.10C113.37 352.57 113.49 352.50 113.59 352.90C113.69 353.30 113.91 353.98 113.95 354.50C113.99 355.02 113.92 355.62 113.83 356.00C113.74 356.38 113.34 356.58 113.39 356.80C113.44 357.02 113.36 357.15 114.15 357.30C114.94 357.45 117.48 357.57 118.15 357.70C118.82 357.83 118.15 358.03 118.15 358.10L108.15 358.10C108.15 358.03 107.48 357.83 108.15 357.70C108.82 357.57 111.36 357.45 112.15 357.30C112.94 357.15 112.86 357.02 112.91 356.80C112.96 356.58 112.56 356.38 112.47 356.00C112.38 355.62 112.31 355.02 112.35 354.50C112.39 353.98 112.61 353.30 112.71 352.90C112.81 352.50 112.93 352.57 112.97 352.10C113.02 351.63 113.00 350.43 113.00 350.10Z" fill="#94a800"/>
<path d="M130.85 349.10C130.89 349.48 130.96 350.72 131.10 351.35C131.24 351.98 131.46 352.38 131.69 352.90C131.92 353.43 132.41 353.98 132.50 354.50C132.59 355.02 132.44 355.62 132.23 356.00C132.02 356.38 131.25 356.58 131.24 356.80C131.22 357.02 131.03 357.15 132.14 357.30C133.25 357.45 136.94 357.57 137.90 357.70C138.86 357.83 137.90 358.03 137.90 358.10L123.50 358.10C123.50 358.03 122.54 357.83 123.50 357.70C124.46 357.57 128.15 357.45 129.26 357.30C130.37 357.15 130.18 357.02 130.16 356.80C130.14 356.58 129.38 356.38 129.17 356.00C128.96 355.62 128.81 355.02 128.90 354.50C128.99 353.98 129.48 353.43 129.71 352.90C129.94 352.38 130.16 351.98 130.30 351.35C130.44 350.72 130.51 349.48 130.55 349.10Z" fill="#1fab2e"/>
<path d="M148.40 345.10C148.44 345.64 148.51 347.31 148.65 348.35C148.79 349.39 149.01 350.32 149.24 351.34C149.47 352.37 149.96 353.72 150.05 354.50C150.14 355.28 149.99 355.62 149.78 356.00C149.57 356.38 148.81 356.58 148.79 356.80C148.77 357.02 148.58 357.15 149.69 357.30C150.80 357.45 154.49 357.57 155.45 357.70C156.41 357.83 155.45 358.03 155.45 358.10L141.05 358.10C141.05 358.03 140.09 357.83 141.05 357.70C142.01 357.57 145.70 357.45 146.81 357.30C147.92 357.15 147.73 357.02 147.71 356.80C147.69 356.58 146.93 356.38 146.72 356.00C146.51 355.62 146.36 355.28 146.45 354.50C146.54 353.72 147.03 352.37 147.26 351.34C147.49 350.32 147.71 349.39 147.85 348.35C147.99 347.31 148.06 345.64 148.10 345.10Z" fill="#11933f"/>
<path d="M165.95 343.10C166.05 343.73 166.27 345.65 166.57 346.85C166.87 348.05 167.27 348.96 167.73 350.30C168.18 351.64 169.12 353.88 169.30 354.90C169.48 355.92 169.18 356.08 168.78 356.40C168.37 356.72 167.10 356.65 166.85 356.80C166.60 356.95 166.22 357.15 167.28 357.30C168.34 357.45 172.21 357.57 173.20 357.70C174.19 357.83 173.20 358.03 173.20 358.10L158.40 358.10C158.40 358.03 157.41 357.83 158.40 357.70C159.39 357.57 163.26 357.45 164.32 357.30C165.38 357.15 165.00 356.95 164.75 356.80C164.50 356.65 163.23 356.72 162.83 356.40C162.42 356.08 162.12 355.92 162.30 354.90C162.48 353.88 163.42 351.64 163.88 350.30C164.33 348.96 164.73 348.05 165.03 346.85C165.33 345.65 165.55 343.73 165.65 343.10Z" fill="#14c297"/>
<path d="M183.50 345.10C183.56 345.64 183.67 347.31 183.86 348.35C184.04 349.39 184.32 350.32 184.62 351.34C184.91 352.37 185.54 353.72 185.65 354.50C185.77 355.28 185.57 355.62 185.31 356.00C185.04 356.38 184.14 356.58 184.04 356.80C183.94 357.02 183.69 357.15 184.71 357.30C185.73 357.45 189.24 357.57 190.15 357.70C191.06 357.83 190.15 358.03 190.15 358.10L176.55 358.10C176.55 358.03 175.64 357.83 176.55 357.70C177.46 357.57 180.97 357.45 181.99 357.30C183.01 357.15 182.76 357.02 182.66 356.80C182.56 356.58 181.66 356.38 181.40 356.00C181.13 355.62 180.94 355.28 181.05 354.50C181.17 353.72 181.79 352.37 182.09 351.34C182.38 350.32 182.66 349.39 182.84 348.35C183.03 347.31 183.14 345.64 183.20 345.10Z" fill="#14b6bd"/>
<path d="M236.15 349.10C236.15 349.48 236.11 350.72 236.15 351.35C236.19 351.98 236.29 352.38 236.38 352.90C236.48 353.43 236.66 353.98 236.70 354.50C236.73 355.02 236.68 355.62 236.59 356.00C236.51 356.38 236.21 356.58 236.21 356.80C236.21 357.02 236.13 357.15 236.60 357.30C237.06 357.45 238.60 357.57 239.00 357.70C239.40 357.83 239.00 358.03 239.00 358.10L233.00 358.10C233.00 358.03 232.60 357.83 233.00 357.70C233.40 357.57 234.94 357.45 235.40 357.30C235.87 357.15 235.79 357.02 235.79 356.80C235.79 356.58 235.49 356.38 235.41 356.00C235.32 355.62 235.27 355.02 235.30 354.50C235.34 353.98 235.52 353.43 235.62 352.90C235.71 352.38 235.81 351.98 235.85 351.35C235.89 350.72 235.85 349.48 235.85 349.10Z" fill="#a98cf6"/>
<path d="M253.70 349.10C253.70 349.48 253.66 350.72 253.70 351.35C253.74 351.98 253.84 352.38 253.94 352.90C254.03 353.43 254.22 353.98 254.25 354.50C254.28 355.02 254.23 355.62 254.15 356.00C254.06 356.38 253.73 356.58 253.76 356.80C253.79 357.02 253.72 357.15 254.35 357.30C254.98 357.45 257.02 357.57 257.55 357.70C258.08 357.83 257.55 358.03 257.55 358.10L249.55 358.10C249.55 358.03 249.02 357.83 249.55 357.70C250.08 357.57 252.12 357.45 252.75 357.30C253.38 357.15 253.31 357.02 253.34 356.80C253.37 356.58 253.04 356.38 252.96 356.00C252.87 355.62 252.82 355.02 252.85 354.50C252.89 353.98 253.07 353.43 253.17 352.90C253.26 352.38 253.36 351.98 253.40 351.35C253.44 350.72 253.40 349.48 253.40 349.10Z" fill="#ea52da"/>
<path d="M78.20 392.78C78.21 393.41 78.19 395.33 78.25 396.53C78.31 397.73 78.43 398.94 78.55 399.98C78.66 401.02 78.91 402.06 78.95 402.78C79.00 403.50 78.92 403.66 78.81 404.28C78.71 404.90 78.28 406.03 78.32 406.48C78.36 406.93 78.26 406.83 79.05 406.98C79.84 407.13 82.38 407.25 83.05 407.38C83.72 407.51 83.05 407.71 83.05 407.78L73.05 407.78C73.05 407.71 72.38 407.51 73.05 407.38C73.72 407.25 76.26 407.13 77.05 406.98C77.84 406.83 77.74 406.93 77.78 406.48C77.82 406.03 77.39 404.90 77.28 404.28C77.18 403.66 77.10 403.50 77.15 402.78C77.19 402.06 77.44 401.02 77.55 399.98C77.67 398.94 77.79 397.73 77.85 396.53C77.91 395.33 77.89 393.41 77.90 392.78Z" fill="#f08200"/>
<path d="M113.30 398.78C113.30 399.16 113.26 400.40 113.30 401.03C113.34 401.66 113.44 402.06 113.54 402.58C113.63 403.11 113.82 403.66 113.85 404.18C113.89 404.70 113.83 405.30 113.75 405.68C113.66 406.06 113.33 406.26 113.36 406.48C113.39 406.70 113.32 406.83 113.95 406.98C114.58 407.13 116.62 407.25 117.15 407.38C117.68 407.51 117.15 407.71 117.15 407.78L109.15 407.78C109.15 407.71 108.62 407.51 109.15 407.38C109.68 407.25 111.72 407.13 112.35 406.98C112.98 406.83 112.91 406.70 112.94 406.48C112.97 406.26 112.64 406.06 112.56 405.68C112.47 405.30 112.42 404.70 112.45 404.18C112.48 403.66 112.67 403.11 112.77 402.58C112.86 402.06 112.96 401.66 113.00 401.03C113.04 400.40 113.00 399.16 113.00 398.78Z" fill="#94a800"/>
<path d="M148.40 398.78C148.45 399.16 148.53 400.40 148.69 401.03C148.85 401.66 149.09 402.06 149.35 402.58C149.61 403.11 150.15 403.66 150.25 404.18C150.35 404.70 150.18 405.30 149.95 405.68C149.72 406.06 148.89 406.26 148.85 406.48C148.81 406.70 148.59 406.83 149.69 406.98C150.79 407.13 154.49 407.25 155.45 407.38C156.41 407.51 155.45 407.71 155.45 407.78L141.05 407.78C141.05 407.71 140.09 407.51 141.05 407.38C142.01 407.25 145.71 407.13 146.81 406.98C147.91 406.83 147.69 406.70 147.65 406.48C147.61 406.26 146.78 406.06 146.55 405.68C146.32 405.30 146.15 404.70 146.25 404.18C146.35 403.66 146.89 403.11 147.15 402.58C147.41 402.06 147.65 401.66 147.81 401.03C147.97 400.40 148.05 399.16 148.10 398.78Z" fill="#11933f"/>
<path d="M165.95 387.78C165.95 388.61 165.93 391.18 165.98 392.78C166.02 394.38 166.14 395.88 166.24 397.38C166.34 398.88 166.56 400.80 166.60 401.78C166.64 402.76 166.57 402.50 166.48 403.28C166.39 404.06 165.91 405.86 166.04 406.48C166.17 407.10 166.09 406.83 167.28 406.98C168.47 407.13 172.21 407.25 173.20 407.38C174.19 407.51 173.20 407.71 173.20 407.78L158.40 407.78C158.40 407.71 157.41 407.51 158.40 407.38C159.39 407.25 163.13 407.13 164.32 406.98C165.51 406.83 165.43 407.10 165.56 406.48C165.69 405.86 165.21 404.06 165.12 403.28C165.03 402.50 164.96 402.76 165.00 401.78C165.04 400.80 165.26 398.88 165.36 397.38C165.46 395.88 165.58 394.38 165.62 392.78C165.67 391.18 165.65 388.61 165.65 387.78Z" fill="#14c297"/>
<path d="M183.50 398.78C183.55 399.16 183.63 400.40 183.79 401.03C183.95 401.66 184.19 402.06 184.45 402.58C184.71 403.11 185.25 403.66 185.35 404.18C185.45 404.70 185.28 405.30 185.05 405.68C184.82 406.06 184.01 406.26 183.95 406.48C183.89 406.70 183.68 406.83 184.71 406.98C185.74 407.13 189.24 407.25 190.15 407.38C191.06 407.51 190.15 407.71 190.15 407.78L176.55 407.78C176.55 407.71 175.64 407.51 176.55 407.38C177.46 407.25 180.96 407.13 181.99 406.98C183.02 406.83 182.81 406.70 182.75 406.48C182.69 406.26 181.88 406.06 181.65 405.68C181.42 405.30 181.25 404.70 181.35 404.18C181.45 403.66 181.99 403.11 182.25 402.58C182.51 402.06 182.75 401.66 182.91 401.03C183.07 400.40 183.15 399.16 183.20 398.78Z" fill="#14b6bd"/>
<path d="M201.05 397.78C201.11 398.20 201.23 399.48 201.43 400.28C201.62 401.08 201.91 401.93 202.22 402.58C202.53 403.23 203.18 403.66 203.30 404.18C203.42 404.70 203.22 405.30 202.94 405.68C202.66 406.06 201.72 406.26 201.62 406.48C201.52 406.70 201.26 406.83 202.34 406.98C203.42 407.13 207.14 407.25 208.10 407.38C209.06 407.51 208.10 407.71 208.10 407.78L193.70 407.78C193.70 407.71 192.74 407.51 193.70 407.38C194.66 407.25 198.38 407.13 199.46 406.98C200.54 406.83 200.28 406.70 200.18 406.48C200.08 406.26 199.14 406.06 198.86 405.68C198.58 405.30 198.38 404.70 198.50 404.18C198.62 403.66 199.27 403.23 199.58 402.58C199.89 401.93 200.18 401.08 200.37 400.28C200.57 399.48 200.69 398.20 200.75 397.78Z" fill="#1da3f2"/>
<path d="M218.60 397.78C218.65 398.20 218.73 399.48 218.89 400.28C219.05 401.08 219.29 401.93 219.55 402.58C219.81 403.23 220.35 403.66 220.45 404.18C220.55 404.70 220.38 405.30 220.15 405.68C219.92 406.06 219.09 406.26 219.05 406.48C219.01 406.70 218.79 406.83 219.89 406.98C220.99 407.13 224.69 407.25 225.65 407.38C226.61 407.51 225.65 407.71 225.65 407.78L211.25 407.78C211.25 407.71 210.29 407.51 211.25 407.38C212.21 407.25 215.91 407.13 217.01 406.98C218.11 406.83 217.89 406.70 217.85 406.48C217.81 406.26 216.98 406.06 216.75 405.68C216.52 405.30 216.35 404.70 216.45 404.18C216.55 403.66 217.09 403.23 217.35 402.58C217.61 401.93 217.85 401.08 218.01 400.28C218.17 399.48 218.25 398.20 218.30 397.78Z" fill="#0d90f2"/>
<path d="M253.70 396.78C253.75 397.24 253.83 398.65 253.99 399.53C254.15 400.41 254.39 401.29 254.65 402.06C254.91 402.83 255.45 403.58 255.55 404.18C255.65 404.78 255.48 405.30 255.25 405.68C255.02 406.06 254.23 406.26 254.15 406.48C254.07 406.70 253.85 406.83 254.75 406.98C255.65 407.13 258.75 407.25 259.55 407.38C260.35 407.51 259.55 407.71 259.55 407.78L247.55 407.78C247.55 407.71 246.75 407.51 247.55 407.38C248.35 407.25 251.45 407.13 252.35 406.98C253.25 406.83 253.03 406.70 252.95 406.48C252.87 406.26 252.08 406.06 251.85 405.68C251.62 405.30 251.45 404.78 251.55 404.18C251.65 403.58 252.19 402.83 252.45 402.06C252.71 401.29 252.95 400.41 253.11 399.53C253.27 398.65 253.35 397.24 253.40 396.78Z" fill="#ea52da"/>
<path d="M288.80 399.78C288.83 400.11 288.85 401.31 288.96 401.78C289.06 402.25 289.24 402.18 289.42 402.58C289.60 402.98 289.98 403.66 290.05 404.18C290.12 404.70 290.00 405.30 289.84 405.68C289.68 406.06 289.10 406.26 289.07 406.48C289.04 406.70 288.89 406.83 289.65 406.98C290.41 407.13 292.98 407.25 293.65 407.38C294.32 407.51 293.65 407.71 293.65 407.78L283.65 407.78C283.65 407.71 282.98 407.51 283.65 407.38C284.32 407.25 286.89 407.13 287.65 406.98C288.41 406.83 288.26 406.70 288.23 406.48C288.20 406.26 287.62 406.06 287.46 405.68C287.30 405.30 287.18 404.70 287.25 404.18C287.32 403.66 287.70 402.98 287.88 402.58C288.06 402.18 288.24 402.25 288.34 401.78C288.45 401.31 288.47 400.11 288.50 399.78Z" fill="#f03a7e"/>
<path d="M163.6 387.2h0.7M164.7 387.0h0.7M165.7 391.1h0.7M169.7 389.5h0.7M166.0 390.0h0.7M169.5 390.2h0.7M162.7 389.6h0.7M168.2 388.6h0.7M164.4 389.8h0.7M163.6 389.0h0.7M167.2 390.1h0.7M165.9 387.8h0.7M161.4 387.5h0.7M167.0 390.1h0.7M166.6 389.1h0.7M165.5 388.6h0.7M167.6 387.7h0.7M165.0 390.9h0.7M167.3 388.8h0.7M165.9 387.5h0.7M164.8 390.9h0.7M164.6 388.1h0.7M164.7 390.8h0.7M165.1 386.9h0.7M168.3 391.2h0.7M164.8 390.2h0.7M166.2 391.2h0.7M170.0 390.3h0.7M166.4 389.6h0.7M166.0 389.8h0.7M165.0 390.1h0.7M163.4 389.8h0.7M168.9 388.0h0.7M164.3 390.9h0.7" stroke="#222" stroke-width="0.7" opacity="0.85" fill="none"/>
<path d="M251.8 394.4h0.6M254.7 395.8h0.6M256.7 397.3h0.6M252.1 397.2h0.6M253.1 393.2h0.6M252.9 394.5h0.6M256.6 395.9h0.6M252.3 397.7h0.6M252.5 392.9h0.6M256.4 394.7h0.6M250.2 396.1h0.6M254.3 395.9h0.6M253.7 393.7h0.6M254.1 393.9h0.6M257.1 396.0h0.6M253.6 394.2h0.6M257.7 394.2h0.6M255.5 393.1h0.6M254.3 397.4h0.6M251.2 394.3h0.6M251.4 396.0h0.6M253.4 392.9h0.6M249.1 395.1h0.6M254.1 396.5h0.6M258.8 393.7h0.6M254.1 393.7h0.6M251.0 396.6h0.6M254.4 396.9h0.6M253.8 397.6h0.6M249.4 393.1h0.6" stroke="#333" stroke-width="0.6" opacity="0.7" fill="none"/>
<path d="M201.4 398.1h0.6M201.7 398.4h0.6M201.5 400.0h0.6M200.8 399.2h0.6M201.1 398.7h0.6M199.9 399.5h0.6M201.2 398.1h0.6M198.8 398.4h0.6M200.8 398.3h0.6M201.8 397.8h0.6M200.8 397.4h0.6M202.1 399.0h0.6" stroke="#666" stroke-width="0.6" opacity="0.6" fill="none"/>
<rect x="53.30" y="338.50" width="14.40" height="6.40" fill="#0c0c0c"/>
<path d="M60.00 338.50L60.50 336.90L61.00 338.50Z" fill="#0c0c0c"/>
<rect x="53.30" y="344.90" width="14.40" height="1.15" fill="#0c0c0c" opacity="0.70"/>
<rect x="53.30" y="346.05" width="14.40" height="1.15" fill="#0c0c0c" opacity="0.60"/>
<rect x="53.30" y="347.20" width="14.40" height="1.15" fill="#0c0c0c" opacity="0.51"/>
<rect x="53.30" y="348.35" width="14.40" height="1.15" fill="#0c0c0c" opacity="0.42"/>
<rect x="53.30" y="349.50" width="14.40" height="1.15" fill="#0c0c0c" opacity="0.34"/>
<rect x="53.30" y="350.65" width="14.40" height="1.15" fill="#0c0c0c" opacity="0.27"/>
<rect x="53.30" y="351.80" width="14.40" height="1.15" fill="#0c0c0c" opacity="0.19"/>
<rect x="53.30" y="352.95" width="14.40" height="1.15" fill="#0c0c0c" opacity="0.13"/>
<rect x="53.30" y="354.10" width="14.40" height="1.15" fill="#0c0c0c" opacity="0.07"/>
<rect x="53.30" y="355.25" width="14.40" height="1.15" fill="#0c0c0c" opacity="0.03"/>
<path d="M62.00 344.70C61.95 344.93 61.83 345.53 61.70 346.10C61.57 346.67 61.33 347.43 61.20 348.10C61.08 348.77 61.01 349.27 60.95 350.10C60.89 350.93 60.88 351.77 60.85 353.10C60.83 354.43 60.81 357.27 60.80 358.10L60.20 358.10C60.19 357.27 60.17 354.43 60.15 353.10C60.12 351.77 60.11 350.93 60.05 350.10C59.99 349.27 59.92 348.77 59.80 348.10C59.67 347.43 59.43 346.67 59.30 346.10C59.17 345.53 59.05 344.93 59.00 344.70Z" fill="#e3211c"/>
<path d="M78.35 360.94C78.50 361.36 78.77 362.52 79.25 363.44C79.73 364.36 80.58 365.44 81.25 366.44C81.92 367.44 82.73 368.49 83.25 369.44C83.77 370.39 84.28 371.16 84.35 372.14C84.42 373.12 84.03 374.31 83.65 375.34C83.27 376.37 82.72 377.64 82.05 378.34C81.38 379.04 80.12 379.14 79.65 379.54C79.18 379.94 79.12 380.39 79.25 380.74C79.38 381.09 79.48 381.37 80.45 381.64C81.42 381.91 84.22 382.12 85.05 382.34C85.88 382.56 85.38 382.84 85.45 382.94L70.65 382.94C70.72 382.84 70.22 382.56 71.05 382.34C71.88 382.12 74.68 381.91 75.65 381.64C76.62 381.37 76.72 381.09 76.85 380.74C76.98 380.39 76.92 379.94 76.45 379.54C75.98 379.14 74.72 379.04 74.05 378.34C73.38 377.64 72.83 376.37 72.45 375.34C72.07 374.31 71.68 373.12 71.75 372.14C71.82 371.16 72.33 370.39 72.85 369.44C73.37 368.49 74.18 367.44 74.85 366.44C75.52 365.44 76.37 364.36 76.85 363.44C77.33 362.52 77.60 361.36 77.75 360.94Z" fill="#f08200"/>
<path d="M78.7 365.3h0.6M78.2 362.6h0.6M77.4 363.9h0.6M81.6 364.8h0.6M79.5 364.8h0.6M76.2 365.8h0.6M78.1 368.6h0.6M79.5 367.3h0.6M76.8 367.3h0.6M73.6 362.2h0.6M79.7 366.0h0.6M79.6 363.7h0.6M78.7 368.3h0.6M79.3 365.2h0.6M79.5 367.2h0.6M76.9 368.5h0.6M81.8 366.2h0.6M76.9 368.6h0.6M73.3 366.8h0.6M78.0 362.1h0.6M77.9 366.9h0.6M82.4 367.6h0.6M80.1 365.6h0.6M74.7 362.0h0.6M75.6 367.6h0.6M79.5 368.2h0.6M79.3 362.6h0.6M81.3 368.0h0.6M80.1 365.8h0.6M75.9 366.8h0.6M79.1 367.7h0.6M75.8 363.4h0.6M77.0 362.7h0.6M78.5 366.8h0.6" stroke="#3a3a3a" stroke-width="0.6" opacity="0.5" fill="none"/>
<path d="M99.20 392.78C99.63 393.36 101.07 395.01 101.80 396.28C102.53 397.55 103.60 399.20 103.60 400.38C103.60 401.56 102.57 402.55 101.80 403.38C101.03 404.21 99.77 404.90 99.00 405.38C98.23 405.86 97.13 406.01 97.20 406.28C97.27 406.55 98.97 406.73 99.40 406.98C99.83 407.23 99.73 407.65 99.80 407.78L91.40 407.78C91.47 407.65 91.37 407.23 91.80 406.98C92.23 406.73 93.93 406.55 94.00 406.28C94.07 406.01 92.97 405.86 92.20 405.38C91.43 404.90 90.17 404.21 89.40 403.38C88.63 402.55 87.60 401.56 87.60 400.38C87.60 399.20 88.67 397.55 89.40 396.28C90.13 395.01 91.57 393.36 92.00 392.78Z" fill="#d39a00"/>
<rect x="88.60" y="386.38" width="14.00" height="6.00" fill="#0c0c0c"/>
<path d="M95.10 386.38L95.60 384.78L96.10 386.38Z" fill="#0c0c0c"/>
<rect x="88.60" y="392.38" width="14.00" height="1.15" fill="#0c0c0c" opacity="0.70"/>
<rect x="88.60" y="393.53" width="14.00" height="1.15" fill="#0c0c0c" opacity="0.51"/>
<rect x="88.60" y="394.68" width="14.00" height="1.15" fill="#0c0c0c" opacity="0.34"/>
<rect x="88.60" y="395.83" width="14.00" height="1.15" fill="#0c0c0c" opacity="0.19"/>
<rect x="88.60" y="396.98" width="14.00" height="1.15" fill="#0c0c0c" opacity="0.07"/>
<path d="M113.45 412.22C113.60 412.62 113.90 413.80 114.35 414.62C114.80 415.44 115.35 416.20 116.15 417.12C116.95 418.04 118.35 419.14 119.15 420.12C119.95 421.10 120.85 422.10 120.95 423.02C121.05 423.94 120.22 424.89 119.75 425.62C119.28 426.35 118.25 426.95 118.15 427.42C118.05 427.89 119.48 428.09 119.15 428.42C118.82 428.75 116.92 429.05 116.15 429.42C115.38 429.79 114.55 430.27 114.55 430.62C114.55 430.97 115.38 431.27 116.15 431.52C116.92 431.77 118.62 431.94 119.15 432.12C119.68 432.30 119.32 432.54 119.35 432.62L106.95 432.62C106.98 432.54 106.62 432.30 107.15 432.12C107.68 431.94 109.38 431.77 110.15 431.52C110.92 431.27 111.75 430.97 111.75 430.62C111.75 430.27 110.92 429.79 110.15 429.42C109.38 429.05 107.48 428.75 107.15 428.42C106.82 428.09 108.25 427.89 108.15 427.42C108.05 426.95 107.02 426.35 106.55 425.62C106.08 424.89 105.25 423.94 105.35 423.02C105.45 422.10 106.35 421.10 107.15 420.12C107.95 419.14 109.35 418.04 110.15 417.12C110.95 416.20 111.50 415.44 111.95 414.62C112.40 413.80 112.70 412.62 112.85 412.22Z" fill="#94a800"/>
<path d="M117.6 417.5h0.7M113.8 413.2h0.7M112.6 415.9h0.7M108.7 417.4h0.7M110.2 418.6h0.7M110.7 417.6h0.7M111.1 418.0h0.7M118.5 418.9h0.7M112.7 416.8h0.7M116.9 418.0h0.7M113.7 417.0h0.7M115.0 416.0h0.7M113.2 415.0h0.7M113.4 418.1h0.7M114.7 415.5h0.7M111.0 414.5h0.7M116.5 417.7h0.7M113.1 415.6h0.7M113.1 415.5h0.7M115.2 413.9h0.7M111.4 419.0h0.7M113.1 416.5h0.7M110.4 418.7h0.7M117.0 415.9h0.7M115.0 418.2h0.7M112.3 417.2h0.7M114.3 417.5h0.7M113.6 414.2h0.7M111.0 418.2h0.7M115.4 414.4h0.7M109.6 416.9h0.7M109.4 418.9h0.7M113.0 413.2h0.7M110.2 414.7h0.7M110.2 413.8h0.7M110.3 417.3h0.7M112.8 418.9h0.7M118.8 414.7h0.7M111.4 415.8h0.7M111.0 413.5h0.7M112.2 413.2h0.7M113.6 416.7h0.7M113.8 417.1h0.7M115.5 415.6h0.7M116.4 416.8h0.7M115.8 414.4h0.7M111.0 418.0h0.7M113.4 417.9h0.7M110.7 417.3h0.7M112.4 415.0h0.7M115.3 416.8h0.7M108.6 416.9h0.7M112.2 418.0h0.7M111.3 413.6h0.7M114.6 417.0h0.7M108.6 417.0h0.7M116.1 413.7h0.7M109.7 416.8h0.7M107.9 417.2h0.7M115.6 418.8h0.7" stroke="#555" stroke-width="0.7" opacity="0.55" fill="none"/>
<path d="M271.40 413.82C271.75 414.20 272.55 415.25 273.50 416.12C274.45 416.99 276.17 418.14 277.10 419.02C278.03 419.90 279.17 420.59 279.10 421.42C279.03 422.25 277.77 423.15 276.70 424.02C275.63 424.89 273.55 425.85 272.70 426.62C271.85 427.39 271.77 427.95 271.60 428.62C271.43 429.29 271.28 430.15 271.70 430.62C272.12 431.09 273.03 431.19 274.10 431.42C275.17 431.65 277.37 431.82 278.10 432.02C278.83 432.22 278.43 432.52 278.50 432.62L263.70 432.62C263.77 432.52 263.37 432.22 264.10 432.02C264.83 431.82 267.03 431.65 268.10 431.42C269.17 431.19 270.08 431.09 270.50 430.62C270.92 430.15 270.77 429.29 270.60 428.62C270.43 427.95 270.35 427.39 269.50 426.62C268.65 425.85 266.57 424.89 265.50 424.02C264.43 423.15 263.17 422.25 263.10 421.42C263.03 420.59 264.17 419.90 265.10 419.02C266.03 418.14 267.75 416.99 268.70 416.12C269.65 415.25 270.45 414.20 270.80 413.82Z" fill="#f650c0"/>
<path d="M270.4 419.4h0.7M267.6 419.4h0.7M269.5 416.4h0.7M267.1 418.1h0.7M273.5 418.7h0.7M269.0 415.3h0.7M270.3 414.4h0.7M269.2 417.6h0.7M269.8 419.5h0.7M272.4 414.8h0.7M274.5 415.6h0.7M273.7 415.5h0.7M273.4 414.4h0.7M268.3 419.1h0.7M270.5 419.3h0.7M270.2 416.6h0.7M269.8 417.2h0.7M271.0 415.6h0.7M269.8 417.6h0.7M270.7 416.1h0.7M273.0 415.4h0.7M267.3 417.4h0.7M267.5 419.3h0.7M271.1 416.8h0.7M269.9 419.5h0.7M269.1 416.2h0.7M268.5 418.5h0.7M270.8 413.9h0.7M269.7 414.0h0.7M273.9 415.9h0.7M270.4 418.0h0.7M275.3 417.3h0.7M273.0 418.8h0.7M271.2 417.5h0.7M273.8 418.5h0.7M268.1 418.2h0.7M266.3 417.3h0.7M268.7 415.7h0.7M271.6 416.3h0.7M275.6 417.6h0.7M269.1 417.7h0.7M273.5 415.5h0.7M276.8 418.7h0.7M272.2 416.2h0.7" stroke="#2a2a2a" stroke-width="0.7" opacity="0.6" fill="none"/>
<path d="M131.00 435.26C131.07 435.79 131.25 437.46 131.40 438.46C131.55 439.46 131.52 440.49 131.90 441.26C132.28 442.03 132.97 442.43 133.70 443.06C134.43 443.69 135.60 444.24 136.30 445.06C137.00 445.88 137.53 446.99 137.90 447.96C138.27 448.93 138.47 449.84 138.50 450.86C138.53 451.88 138.30 453.16 138.10 454.06C137.90 454.96 137.37 455.76 137.30 456.26C137.23 456.76 137.63 456.86 137.70 457.06C137.77 457.26 137.70 457.39 137.70 457.46L123.70 457.46C123.70 457.39 123.63 457.26 123.70 457.06C123.77 456.86 124.17 456.76 124.10 456.26C124.03 455.76 123.50 454.96 123.30 454.06C123.10 453.16 122.87 451.88 122.90 450.86C122.93 449.84 123.13 448.93 123.50 447.96C123.87 446.99 124.40 445.88 125.10 445.06C125.80 444.24 126.97 443.69 127.70 443.06C128.43 442.43 129.12 442.03 129.50 441.26C129.88 440.49 129.85 439.46 130.00 438.46C130.15 437.46 130.33 435.79 130.40 435.26Z" fill="#1fab2e"/>
<path d="M148.55 460.00C149.00 460.38 150.00 461.30 151.25 462.30C152.50 463.30 155.78 464.83 156.05 466.00C156.32 467.17 153.73 468.35 152.85 469.30C151.97 470.25 151.32 470.95 150.75 471.70C150.18 472.45 149.75 473.13 149.45 473.80C149.15 474.47 149.05 474.28 148.95 475.70C148.85 477.12 148.87 481.20 148.85 482.30L147.65 482.30C147.63 481.20 147.65 477.12 147.55 475.70C147.45 474.28 147.35 474.47 147.05 473.80C146.75 473.13 146.32 472.45 145.75 471.70C145.18 470.95 144.53 470.25 143.65 469.30C142.77 468.35 140.18 467.17 140.45 466.00C140.72 464.83 144.00 463.30 145.25 462.30C146.50 461.30 147.50 460.38 147.95 460.00Z" fill="#11933f"/>
<path d="M166.10 487.74C166.27 488.22 166.68 489.57 167.10 490.64C167.52 491.71 168.12 492.96 168.60 494.14C169.08 495.32 169.83 496.57 170.00 497.74C170.17 498.91 169.80 500.22 169.60 501.14C169.40 502.06 169.23 502.67 168.80 503.24C168.37 503.81 167.27 504.16 167.00 504.54C166.73 504.92 166.57 505.22 167.20 505.54C167.83 505.86 169.83 506.17 170.80 506.44C171.77 506.71 172.63 507.02 173.00 507.14L158.60 507.14C158.97 507.02 159.83 506.71 160.80 506.44C161.77 506.17 163.77 505.86 164.40 505.54C165.03 505.22 164.87 504.92 164.60 504.54C164.33 504.16 163.23 503.81 162.80 503.24C162.37 502.67 162.20 502.06 162.00 501.14C161.80 500.22 161.43 498.91 161.60 497.74C161.77 496.57 162.52 495.32 163.00 494.14C163.48 492.96 164.08 491.71 164.50 490.64C164.92 489.57 165.33 488.22 165.50 487.74Z" fill="#14c297"/>
<path d="M183.65 509.78C183.80 510.08 184.03 510.98 184.55 511.58C185.07 512.18 185.95 512.73 186.75 513.38C187.55 514.03 188.62 514.71 189.35 515.48C190.08 516.25 190.77 517.23 191.15 517.98C191.53 518.73 191.65 519.31 191.65 519.98C191.65 520.65 191.50 521.31 191.15 521.98C190.80 522.65 190.15 523.38 189.55 523.98C188.95 524.58 188.12 525.08 187.55 525.58C186.98 526.08 186.58 526.55 186.15 526.98C185.72 527.41 185.20 527.78 184.95 528.18C184.70 528.58 184.62 529.01 184.65 529.38C184.68 529.75 184.93 530.08 185.15 530.38C185.37 530.68 185.82 530.91 185.95 531.18C186.08 531.45 185.95 531.85 185.95 531.98L180.75 531.98C180.75 531.85 180.62 531.45 180.75 531.18C180.88 530.91 181.33 530.68 181.55 530.38C181.77 530.08 182.02 529.75 182.05 529.38C182.08 529.01 182.00 528.58 181.75 528.18C181.50 527.78 180.98 527.41 180.55 526.98C180.12 526.55 179.72 526.08 179.15 525.58C178.58 525.08 177.75 524.58 177.15 523.98C176.55 523.38 175.90 522.65 175.55 521.98C175.20 521.31 175.05 520.65 175.05 519.98C175.05 519.31 175.17 518.73 175.55 517.98C175.93 517.23 176.62 516.25 177.35 515.48C178.08 514.71 179.15 514.03 179.95 513.38C180.75 512.73 181.63 512.18 182.15 511.58C182.67 510.98 182.90 510.08 183.05 509.78Z" fill="#14b6bd"/>
<path d="M201.20 534.82C201.28 535.49 201.53 537.32 201.70 538.82C201.87 540.32 202.02 542.32 202.20 543.82C202.38 545.32 202.58 546.62 202.80 547.82C203.02 549.02 203.23 549.95 203.50 551.02C203.77 552.09 204.13 553.50 204.40 554.22C204.67 554.94 204.38 554.99 205.10 555.32C205.82 555.65 208.07 555.97 208.70 556.22C209.33 556.47 208.87 556.72 208.90 556.82L192.90 556.82C192.93 556.72 192.47 556.47 193.10 556.22C193.73 555.97 195.98 555.65 196.70 555.32C197.42 554.99 197.13 554.94 197.40 554.22C197.67 553.50 198.03 552.09 198.30 551.02C198.57 549.95 198.78 549.02 199.00 547.82C199.22 546.62 199.42 545.32 199.60 543.82C199.78 542.32 199.93 540.32 200.10 538.82C200.27 537.32 200.52 535.49 200.60 534.82Z" fill="#1da3f2"/>
<path d="M218.75 559.66C218.90 559.89 219.10 560.56 219.65 561.06C220.20 561.56 221.25 562.06 222.05 562.66C222.85 563.26 223.78 563.99 224.45 564.66C225.12 565.33 225.72 566.03 226.05 566.66C226.38 567.29 226.48 567.79 226.45 568.46C226.42 569.13 226.18 569.96 225.85 570.66C225.52 571.36 224.95 572.06 224.45 572.66C223.95 573.26 223.25 573.79 222.85 574.26C222.45 574.73 222.22 575.09 222.05 575.46C221.88 575.83 221.87 576.13 221.85 576.46C221.83 576.79 222.22 577.13 221.95 577.46C221.68 577.79 220.63 578.09 220.25 578.46C219.87 578.83 219.65 579.29 219.65 579.66C219.65 580.03 220.08 580.39 220.25 580.66C220.42 580.93 220.58 581.09 220.65 581.26C220.72 581.43 220.65 581.59 220.65 581.66L216.25 581.66C216.25 581.59 216.18 581.43 216.25 581.26C216.32 581.09 216.48 580.93 216.65 580.66C216.82 580.39 217.25 580.03 217.25 579.66C217.25 579.29 217.03 578.83 216.65 578.46C216.27 578.09 215.22 577.79 214.95 577.46C214.68 577.13 215.07 576.79 215.05 576.46C215.03 576.13 215.02 575.83 214.85 575.46C214.68 575.09 214.45 574.73 214.05 574.26C213.65 573.79 212.95 573.26 212.45 572.66C211.95 572.06 211.38 571.36 211.05 570.66C210.72 569.96 210.48 569.13 210.45 568.46C210.42 567.79 210.52 567.29 210.85 566.66C211.18 566.03 211.78 565.33 212.45 564.66C213.12 563.99 214.05 563.26 214.85 562.66C215.65 562.06 216.70 561.56 217.25 561.06C217.80 560.56 218.00 559.89 218.15 559.66Z" fill="#0d90f2"/>
<rect x="229.40" y="588.10" width="13.20" height="4.00" fill="#686868"/>
<path d="M235.50 588.10L236.00 586.50L236.50 588.10Z" fill="#686868"/>
<rect x="229.40" y="592.10" width="13.20" height="1.15" fill="#686868" opacity="0.70"/>
<rect x="229.40" y="593.25" width="13.20" height="1.15" fill="#686868" opacity="0.60"/>
<rect x="229.40" y="594.40" width="13.20" height="1.15" fill="#686868" opacity="0.51"/>
<rect x="229.40" y="595.55" width="13.20" height="1.15" fill="#686868" opacity="0.42"/>
<rect x="229.40" y="596.70" width="13.20" height="1.15" fill="#686868" opacity="0.34"/>
<rect x="229.40" y="597.85" width="13.20" height="1.15" fill="#686868" opacity="0.27"/>
<rect x="229.40" y="599.00" width="13.20" height="1.15" fill="#686868" opacity="0.19"/>
<rect x="229.40" y="600.15" width="13.20" height="1.15" fill="#686868" opacity="0.13"/>
<rect x="229.40" y="601.30" width="13.20" height="1.15" fill="#686868" opacity="0.07"/>
<rect x="229.40" y="602.45" width="13.20" height="1.15" fill="#686868" opacity="0.03"/>
<path d="M236.90 596.50C236.90 597.17 236.88 599.33 236.90 600.50C236.92 601.67 236.88 602.73 237.00 603.50C237.12 604.27 236.97 604.68 237.60 605.10C238.23 605.52 240.23 605.77 240.80 606.00C241.37 606.23 240.97 606.42 241.00 606.50L231.00 606.50C231.03 606.42 230.63 606.23 231.20 606.00C231.77 605.77 233.77 605.52 234.40 605.10C235.03 604.68 234.88 604.27 235.00 603.50C235.12 602.73 235.08 601.67 235.10 600.50C235.12 599.33 235.10 597.17 235.10 596.50Z" fill="#a98cf6"/>
<path d="M253.85 609.34C253.95 609.84 254.28 611.01 254.45 612.34C254.62 613.67 254.73 615.51 254.85 617.34C254.97 619.17 255.07 621.97 255.15 623.34C255.23 624.71 255.02 624.94 255.35 625.54C255.68 626.14 257.18 626.51 257.15 626.94C257.12 627.37 255.55 627.71 255.15 628.14C254.75 628.57 254.52 629.16 254.75 629.54C254.98 629.92 255.58 630.21 256.55 630.44C257.52 630.67 259.88 630.79 260.55 630.94C261.22 631.09 260.55 631.27 260.55 631.34L246.55 631.34C246.55 631.27 245.88 631.09 246.55 630.94C247.22 630.79 249.58 630.67 250.55 630.44C251.52 630.21 252.12 629.92 252.35 629.54C252.58 629.16 252.35 628.57 251.95 628.14C251.55 627.71 249.98 627.37 249.95 626.94C249.92 626.51 251.42 626.14 251.75 625.54C252.08 624.94 251.87 624.71 251.95 623.34C252.03 621.97 252.13 619.17 252.25 617.34C252.37 615.51 252.48 613.67 252.65 612.34C252.82 611.01 253.15 609.84 253.25 609.34Z" fill="#ea52da"/>
<path d="M271.40 634.78C271.52 635.51 271.78 637.78 272.10 639.18C272.42 640.58 272.87 641.91 273.30 643.18C273.73 644.45 274.43 645.95 274.70 646.78C274.97 647.61 274.57 647.81 274.90 648.18C275.23 648.55 276.77 648.71 276.70 648.98C276.63 649.25 274.83 649.41 274.50 649.78C274.17 650.15 274.07 650.78 274.70 651.18C275.33 651.58 278.47 651.85 278.30 652.18C278.13 652.51 274.63 652.78 273.70 653.18C272.77 653.58 271.97 654.18 272.70 654.58C273.43 654.98 277.13 655.31 278.10 655.58C279.07 655.85 278.43 656.08 278.50 656.18L263.70 656.18C263.77 656.08 263.13 655.85 264.10 655.58C265.07 655.31 268.77 654.98 269.50 654.58C270.23 654.18 269.43 653.58 268.50 653.18C267.57 652.78 264.07 652.51 263.90 652.18C263.73 651.85 266.87 651.58 267.50 651.18C268.13 650.78 268.03 650.15 267.70 649.78C267.37 649.41 265.57 649.25 265.50 648.98C265.43 648.71 266.97 648.55 267.30 648.18C267.63 647.81 267.23 647.61 267.50 646.78C267.77 645.95 268.47 644.45 268.90 643.18C269.33 641.91 269.78 640.58 270.10 639.18C270.42 637.78 270.68 635.51 270.80 634.78Z" fill="#f650c0"/>
<path d="M288.95 660.42C289.07 660.85 289.43 662.09 289.65 663.02C289.87 663.95 290.22 664.85 290.25 666.02C290.28 667.19 290.00 668.77 289.85 670.02C289.70 671.27 289.32 672.62 289.35 673.52C289.38 674.42 289.77 674.97 290.05 675.42C290.33 675.87 291.08 675.92 291.05 676.22C291.02 676.52 290.12 676.75 289.85 677.22C289.58 677.69 289.32 678.55 289.45 679.02C289.58 679.49 289.62 679.75 290.65 680.02C291.68 680.29 294.75 680.45 295.65 680.62C296.55 680.79 295.98 680.95 296.05 681.02L281.25 681.02C281.32 680.95 280.75 680.79 281.65 680.62C282.55 680.45 285.62 680.29 286.65 680.02C287.68 679.75 287.72 679.49 287.85 679.02C287.98 678.55 287.72 677.69 287.45 677.22C287.18 676.75 286.28 676.52 286.25 676.22C286.22 675.92 286.97 675.87 287.25 675.42C287.53 674.97 287.92 674.42 287.95 673.52C287.98 672.62 287.60 671.27 287.45 670.02C287.30 668.77 287.02 667.19 287.05 666.02C287.08 664.85 287.43 663.95 287.65 663.02C287.87 662.09 288.23 660.85 288.35 660.42Z" fill="#f03a7e"/>
<text x="313.4" y="341.4" font-size="8.5" font-weight="bold" fill="#000">e</text>
<g stroke="#2b2b2b" stroke-width="0.35" stroke-linejoin="round">
<path d="M357 394.8L357.00 352.80A42 42 0 0 1 398.40 387.71Z" fill="#c99a0c"/>
<path d="M357 394.8L398.40 387.71A42 42 0 0 1 373.44 433.45Z" fill="#f8766d"/>
<path d="M357 394.8L373.44 433.45A42 42 0 0 1 330.64 427.50Z" fill="#94a80c"/>
<path d="M357 394.8L330.64 427.50A42 42 0 0 1 315.07 397.17Z" fill="#b391fb"/>
<path d="M357 394.8L315.07 397.17A42 42 0 0 1 322.26 371.19Z" fill="#f873f1"/>
<path d="M357 394.8L322.26 371.19A42 42 0 0 1 336.08 358.38Z" fill="#f45ed6"/>
<path d="M357 394.8L336.08 358.38A42 42 0 0 1 341.29 355.85Z" fill="#f5870f"/>
<path d="M357 394.8L341.29 355.85A42 42 0 0 1 346.56 354.12Z" fill="#f562b0"/>
<path d="M357 394.8L346.56 354.12A42 42 0 0 1 349.13 353.54Z" fill="#10b52b" stroke-width="0.15"/>
<path d="M357 394.8L349.13 353.54A42 42 0 0 1 351.21 353.20Z" fill="#1cba56" stroke-width="0.15"/>
<path d="M357 394.8L351.21 353.20A42 42 0 0 1 352.78 353.01Z" fill="#1ebf93" stroke-width="0.15"/>
<path d="M357 394.8L352.78 353.01A42 42 0 0 1 354.36 352.88Z" fill="#13b9c3" stroke-width="0.15"/>
<path d="M357 394.8L354.36 352.88A42 42 0 0 1 355.68 352.82Z" fill="#19a5f5" stroke-width="0.15"/>
<path d="M357 394.8L355.68 352.82A42 42 0 0 1 356.74 352.80Z" fill="#6a49f0" stroke-width="0.15"/>
<path d="M357 394.8L356.74 352.80A42 42 0 0 1 357.00 352.80Z" fill="#19b2ee" stroke-width="0.15"/>
</g>
<text x="404" y="354">Single nuclei</text>
<rect x="405.5" y="361.30" width="10.6" height="4.8" fill="#c99a0c"/>
<text x="418.5" y="366.2">22.3% Fb</text>
<rect x="405.5" y="372.10" width="10.6" height="4.8" fill="#f8766d"/>
<text x="418.5" y="377.0">21.3% CM</text>
<rect x="405.5" y="382.90" width="10.6" height="4.8" fill="#94a80c"/>
<text x="418.5" y="387.8">17.2% Endo</text>
<rect x="405.5" y="393.70" width="10.6" height="4.8" fill="#b391fb"/>
<text x="418.5" y="398.6">13.3% Mac</text>
<rect x="405.5" y="404.50" width="10.6" height="4.8" fill="#f873f1"/>
<text x="418.5" y="409.4">10.4% PC</text>
<rect x="405.5" y="415.30" width="10.6" height="4.8" fill="#f45ed6"/>
<text x="418.5" y="420.2">7.2% EC</text>
<rect x="405.5" y="426.10" width="10.6" height="4.8" fill="#f5870f"/>
<text x="418.5" y="431.0">2.2% SM</text>
<rect x="405.5" y="436.90" width="10.6" height="4.8" fill="#f562b0"/>
<text x="418.5" y="441.8">2.1% T/NK cell</text>
<rect x="471.4" y="362.60" width="10.6" height="4.8" fill="#10b52b"/>
<text x="484.5" y="367.5">1.0% LEC</text>
<rect x="471.4" y="373.40" width="10.6" height="4.8" fill="#1cba56"/>
<text x="484.5" y="378.3">0.8% Neurons</text>
<rect x="471.4" y="384.20" width="10.6" height="4.8" fill="#1ebf93"/>
<text x="484.5" y="389.1">0.6% Epi</text>
<rect x="471.4" y="395.00" width="10.6" height="4.8" fill="#13b9c3"/>
<text x="484.5" y="399.9">0.6% Mast</text>
<rect x="471.4" y="405.80" width="10.6" height="4.8" fill="#19a5f5"/>
<text x="484.5" y="410.7">0.5% Adipo</text>
<rect x="471.4" y="416.60" width="10.6" height="4.8" fill="#6a49f0"/>
<text x="484.5" y="421.5">0.4% Mono</text>
<rect x="471.4" y="427.40" width="10.6" height="4.8" fill="#19b2ee"/>
<text x="484.5" y="432.3">0.1% B cells</text>
<g stroke="#2b2b2b" stroke-width="0.35" stroke-linejoin="round">
<path d="M354.8 507.8L354.80 465.80A42 42 0 0 1 361.63 549.24Z" fill="#c99a0c"/>
<path d="M354.8 507.8L361.63 549.24A42 42 0 0 1 314.32 519.01Z" fill="#94a80c"/>
<path d="M354.8 507.8L314.32 519.01A42 42 0 0 1 317.74 488.03Z" fill="#f873f1"/>
<path d="M354.8 507.8L317.74 488.03A42 42 0 0 1 331.63 472.77Z" fill="#b391fb"/>
<path d="M354.8 507.8L331.63 472.77A42 42 0 0 1 342.83 467.54Z" fill="#f562b0"/>
<path d="M354.8 507.8L342.83 467.54A42 42 0 0 1 346.93 466.54Z" fill="#6a49f0"/>
<path d="M354.8 507.8L346.93 466.54A42 42 0 0 1 349.80 466.10Z" fill="#f5870f"/>
<path d="M354.8 507.8L349.80 466.10A42 42 0 0 1 351.90 465.90Z" fill="#f8388e" stroke-width="0.15"/>
<path d="M354.8 507.8L351.90 465.90A42 42 0 0 1 353.48 465.82Z" fill="#1cba56" stroke-width="0.15"/>
<path d="M354.8 507.8L353.48 465.82A42 42 0 0 1 354.54 465.80Z" fill="#19b2ee" stroke-width="0.15"/>
</g>
<text x="403.4" y="466.2">Single cell</text>
<rect x="405.5" y="473.60" width="10.6" height="4.8" fill="#c99a0c"/>
<text x="418.5" y="478.5">47.4% Fb</text>
<rect x="405.5" y="484.43" width="10.6" height="4.8" fill="#94a80c"/>
<text x="418.5" y="489.33">23.3% Endo</text>
<rect x="405.5" y="495.26" width="10.6" height="4.8" fill="#f873f1"/>
<text x="418.5" y="500.16">12.1% PC</text>
<rect x="405.5" y="506.09" width="10.6" height="4.8" fill="#b391fb"/>
<text x="418.5" y="510.99">7.9% Mac</text>
<rect x="405.5" y="516.92" width="10.6" height="4.8" fill="#f562b0"/>
<text x="418.5" y="521.82">4.7% T cells</text>
<rect x="405.5" y="527.75" width="10.6" height="4.8" fill="#6a49f0"/>
<text x="418.5" y="532.65">1.6% Mono</text>
<rect x="405.5" y="538.58" width="10.6" height="4.8" fill="#f5870f"/>
<text x="418.5" y="543.48">1.1% SM</text>
<rect x="405.5" y="549.41" width="10.6" height="4.8" fill="#f8388e"/>
<text x="418.5" y="554.31">0.8% NK cells</text>
<rect x="471.4" y="472.40" width="10.6" height="4.8" fill="#1cba56"/>
<text x="484.5" y="477.3">0.6% Neurons</text>
<rect x="471.4" y="483.70" width="10.6" height="4.8" fill="#19b2ee"/>
<text x="484.5" y="488.6">0.4% B cells</text>
<g stroke="#2b2b2b" stroke-width="0.35" stroke-linejoin="round">
<path d="M357 626.4L357.00 584.40A42 42 0 0 1 398.84 630.09Z" fill="#c99a0c"/>
<path d="M357 626.4L398.84 630.09A42 42 0 0 1 372.71 665.35Z" fill="#f8766d"/>
<path d="M357 626.4L372.71 665.35A42 42 0 0 1 329.62 658.25Z" fill="#94a80c"/>
<path d="M357 626.4L329.62 658.25A42 42 0 0 1 315.05 628.51Z" fill="#b391fb"/>
<path d="M357 626.4L315.05 628.51A42 42 0 0 1 323.02 601.71Z" fill="#f873f1"/>
<path d="M357 626.4L323.02 601.71A42 42 0 0 1 334.50 590.94Z" fill="#f45ed6"/>
<path d="M357 626.4L334.50 590.94A42 42 0 0 1 339.36 588.29Z" fill="#f5870f"/>
<path d="M357 626.4L339.36 588.29A42 42 0 0 1 346.04 585.85Z" fill="#f562b0"/>
<path d="M357 626.4L346.04 585.85A42 42 0 0 1 348.35 585.30Z" fill="#10b52b" stroke-width="0.15"/>
<path d="M357 626.4L348.35 585.30A42 42 0 0 1 350.43 584.92Z" fill="#1cba56" stroke-width="0.15"/>
<path d="M357 626.4L350.43 584.92A42 42 0 0 1 352.26 584.67Z" fill="#1ebf93" stroke-width="0.15"/>
<path d="M357 626.4L352.26 584.67A42 42 0 0 1 353.57 584.54Z" fill="#13b9c3" stroke-width="0.15"/>
<path d="M357 626.4L353.57 584.54A42 42 0 0 1 354.63 584.47Z" fill="#19a5f5" stroke-width="0.15"/>
<path d="M357 626.4L354.63 584.47A42 42 0 0 1 354.89 584.45Z" fill="#19b2ee" stroke-width="0.15"/>
</g>
<text x="404" y="584">Integrated</text>
<rect x="407.6" y="589.40" width="10.6" height="4.8" fill="#c99a0c"/>
<text x="419.6" y="594.3">26.4% Fb</text>
<rect x="407.6" y="600.30" width="10.6" height="4.8" fill="#94a80c"/>
<text x="419.6" y="605.2">17.4% Endo</text>
<rect x="407.6" y="611.20" width="10.6" height="4.8" fill="#f8766d"/>
<text x="419.6" y="616.1">17.5% Cm</text>
<rect x="407.6" y="622.10" width="10.6" height="4.8" fill="#b391fb"/>
<text x="419.6" y="627.0">12.9% Mac</text>
<rect x="407.6" y="633.00" width="10.6" height="4.8" fill="#f873f1"/>
<text x="419.6" y="637.9">10.8% PC</text>
<rect x="407.6" y="643.90" width="10.6" height="4.8" fill="#f45ed6"/>
<text x="419.6" y="648.8">6.0% EC</text>
<rect x="407.6" y="654.80" width="10.6" height="4.8" fill="#f562b0"/>
<text x="419.6" y="659.7">2.7% T/NK cell</text>
<rect x="407.6" y="665.70" width="10.6" height="4.8" fill="#f5870f"/>
<text x="419.6" y="670.6">2.1% SMC</text>
<rect x="471.4" y="591.30" width="10.6" height="4.8" fill="#10b52b"/>
<text x="484.5" y="596.2">0.9% LEC</text>
<rect x="471.4" y="602.05" width="10.6" height="4.8" fill="#1cba56"/>
<text x="484.5" y="606.95">0.8% Neurons</text>
<rect x="471.4" y="612.80" width="10.6" height="4.8" fill="#1ebf93"/>
<text x="484.5" y="617.7">0.7% Epi</text>
<rect x="471.4" y="623.55" width="10.6" height="4.8" fill="#13b9c3"/>
<text x="484.5" y="628.45">0.5% Mast</text>
<rect x="471.4" y="634.30" width="10.6" height="4.8" fill="#19a5f5"/>
<text x="484.5" y="639.2">0.4% Adipo</text>
<rect x="471.4" y="645.05" width="10.6" height="4.8" fill="#19b2ee"/>
<text x="484.5" y="649.95">0.1% B Cell</text>
</svg>
</body>
</html>
